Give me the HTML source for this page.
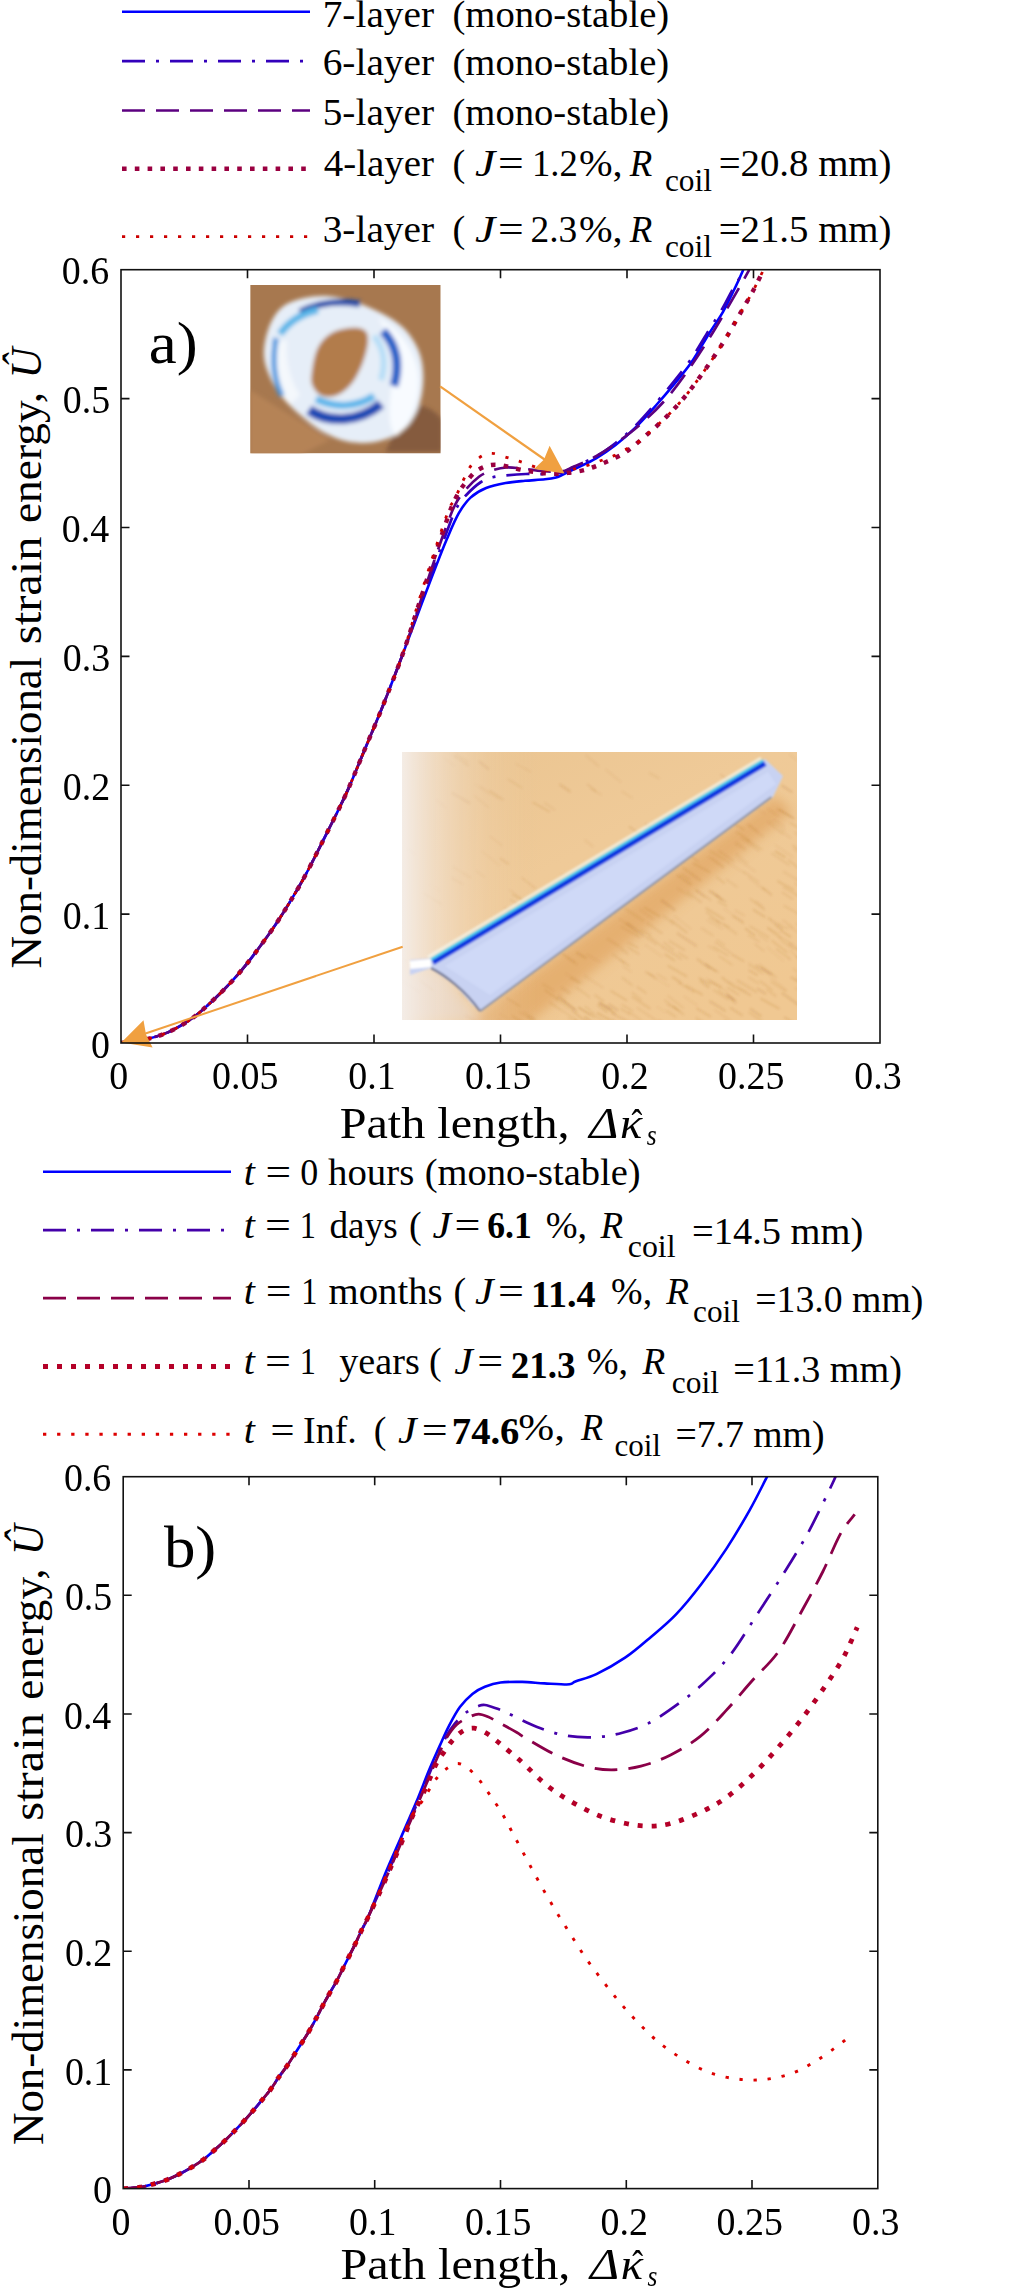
<!DOCTYPE html>
<html><head><meta charset="utf-8"><title>Strain energy</title>
<style>
html,body{margin:0;padding:0;background:#fff;}
svg{display:block;}
text{font-family:'Liberation Serif','Times New Roman',serif;fill:#000;}
</style></head><body>
<svg width="1025" height="2288" viewBox="0 0 1025 2288">
<defs>
<filter id="bl1" x="-10%" y="-10%" width="120%" height="120%"><feGaussianBlur stdDeviation="2.2"/></filter>
<filter id="bl2" x="-10%" y="-10%" width="120%" height="120%"><feGaussianBlur stdDeviation="1.2"/></filter>
<filter id="bl4" x="-5%" y="-5%" width="110%" height="110%"><feGaussianBlur stdDeviation="0.9"/></filter>
<filter id="bl3" x="-20%" y="-20%" width="140%" height="140%"><feGaussianBlur stdDeviation="6"/></filter>
<clipPath id="cp1"><rect x="250.2" y="285" width="190.5" height="168.4"/></clipPath>
<clipPath id="cp2"><rect x="402" y="752" width="395" height="268"/></clipPath>
<clipPath id="ca"><rect x="121" y="269.7" width="759" height="773.3"/></clipPath>
<clipPath id="cb"><rect x="123.2" y="1476.7" width="754.6" height="711.9"/></clipPath>
<linearGradient id="wood2" x1="0" y1="0" x2="1" y2="0.6">
<stop offset="0" stop-color="#f3ece6"/><stop offset="0.25" stop-color="#efd6b6"/><stop offset="0.6" stop-color="#e9c08c"/><stop offset="1" stop-color="#e4b47c"/>
</linearGradient>
<linearGradient id="w2base" x1="0" y1="0" x2="0.8" y2="1">
<stop offset="0" stop-color="#eac490"/><stop offset="0.45" stop-color="#efca98"/><stop offset="1" stop-color="#f0c892"/>
</linearGradient>
<linearGradient id="w2g" x1="0" y1="0" x2="1" y2="0">
<stop offset="0" stop-color="#f4eeea" stop-opacity="0.95"/><stop offset="0.08" stop-color="#f2e4d6" stop-opacity="0.7"/><stop offset="0.22" stop-color="#f0d6b8" stop-opacity="0.25"/><stop offset="0.35" stop-color="#eec89a" stop-opacity="0"/><stop offset="1" stop-color="#eec89a" stop-opacity="0"/>
</linearGradient>
<linearGradient id="wood1" x1="0" y1="0" x2="0.3" y2="1">
<stop offset="0" stop-color="#a47650"/><stop offset="0.6" stop-color="#a87a50"/><stop offset="1" stop-color="#a46a38"/>
</linearGradient>
</defs>

<path d="M122,11.7H310" fill="none" stroke="#0000ff" stroke-width="2.6" stroke-linejoin="round"/><path d="M122,61.2H310" fill="none" stroke="#3300bb" stroke-width="2.7" stroke-dasharray="23 11 3 11" stroke-linejoin="round"/><path d="M122,110.5H310" fill="none" stroke="#5c0080" stroke-width="2.7" stroke-dasharray="23 11" stroke-linejoin="round"/><path d="M122,168.8H310" fill="none" stroke="#9a0040" stroke-width="4.4" stroke-dasharray="4.6 8.2" stroke-linejoin="round"/><path d="M122,236.7H310" fill="none" stroke="#cc0000" stroke-width="2.8" stroke-dasharray="3.2 10.8" stroke-linejoin="round"/><path d="M43,1171.8H231" fill="none" stroke="#0000ff" stroke-width="2.6" stroke-linejoin="round"/><path d="M43,1230.1H231" fill="none" stroke="#4400aa" stroke-width="2.7" stroke-dasharray="23 11 3 11" stroke-linejoin="round"/><path d="M43,1298.1H231" fill="none" stroke="#8a0048" stroke-width="2.8" stroke-dasharray="23 11" stroke-linejoin="round"/><path d="M43,1366.5H231" fill="none" stroke="#b40028" stroke-width="4.8" stroke-dasharray="5 9" stroke-linejoin="round"/><path d="M43,1434.3H231" fill="none" stroke="#dd0000" stroke-width="2.9" stroke-dasharray="3.3 10.8" stroke-linejoin="round"/>
<g>
<text x="322.73" y="27.00" font-size="38" textLength="111.30" lengthAdjust="spacingAndGlyphs" xml:space="preserve">7-layer</text>
<text x="452.47" y="27.00" font-size="38" textLength="216.71" lengthAdjust="spacingAndGlyphs" xml:space="preserve">(mono-stable)</text>
<text x="322.73" y="75.20" font-size="38" textLength="111.30" lengthAdjust="spacingAndGlyphs" xml:space="preserve">6-layer</text>
<text x="452.47" y="75.20" font-size="38" textLength="216.71" lengthAdjust="spacingAndGlyphs" xml:space="preserve">(mono-stable)</text>
<text x="322.73" y="125.00" font-size="38" textLength="111.30" lengthAdjust="spacingAndGlyphs" xml:space="preserve">5-layer</text>
<text x="452.47" y="125.00" font-size="38" textLength="216.71" lengthAdjust="spacingAndGlyphs" xml:space="preserve">(mono-stable)</text>
<text x="323.78" y="176.30" font-size="38" textLength="110.25" lengthAdjust="spacingAndGlyphs" xml:space="preserve">4-layer</text>
<text x="452.48" y="176.30" font-size="38" textLength="12.78" lengthAdjust="spacingAndGlyphs" xml:space="preserve">(</text>
<text x="475.10" y="176.30" font-size="38" font-style="italic" textLength="20.25" lengthAdjust="spacingAndGlyphs" xml:space="preserve">J</text>
<text x="498.00" y="176.30" font-size="38" textLength="25.73" lengthAdjust="spacingAndGlyphs" xml:space="preserve">=</text>
<text x="531.90" y="176.30" font-size="38" textLength="45.84" lengthAdjust="spacingAndGlyphs" xml:space="preserve">1.2</text>
<text x="578.94" y="176.30" font-size="38" textLength="43.65" lengthAdjust="spacingAndGlyphs" xml:space="preserve">%,</text>
<text x="629.70" y="176.30" font-size="38" font-style="italic" textLength="22.51" lengthAdjust="spacingAndGlyphs" xml:space="preserve">R</text>
<text x="664.92" y="191.30" font-size="32" textLength="47.05" lengthAdjust="spacingAndGlyphs" xml:space="preserve">coil</text>
<text x="718.66" y="176.30" font-size="38" textLength="172.77" lengthAdjust="spacingAndGlyphs" xml:space="preserve">=20.8 mm)</text>
<text x="322.73" y="242.00" font-size="38" textLength="111.30" lengthAdjust="spacingAndGlyphs" xml:space="preserve">3-layer</text>
<text x="452.48" y="242.00" font-size="38" textLength="12.78" lengthAdjust="spacingAndGlyphs" xml:space="preserve">(</text>
<text x="475.10" y="242.00" font-size="38" font-style="italic" textLength="20.25" lengthAdjust="spacingAndGlyphs" xml:space="preserve">J</text>
<text x="498.00" y="242.00" font-size="38" textLength="25.73" lengthAdjust="spacingAndGlyphs" xml:space="preserve">=</text>
<text x="530.53" y="242.00" font-size="38" textLength="46.74" lengthAdjust="spacingAndGlyphs" xml:space="preserve">2.3</text>
<text x="578.94" y="242.00" font-size="38" textLength="43.65" lengthAdjust="spacingAndGlyphs" xml:space="preserve">%,</text>
<text x="629.70" y="242.00" font-size="38" font-style="italic" textLength="22.51" lengthAdjust="spacingAndGlyphs" xml:space="preserve">R</text>
<text x="664.92" y="257.00" font-size="32" textLength="47.05" lengthAdjust="spacingAndGlyphs" xml:space="preserve">coil</text>
<text x="718.66" y="242.00" font-size="38" textLength="172.77" lengthAdjust="spacingAndGlyphs" xml:space="preserve">=21.5 mm)</text>
<text x="243.89" y="1185.40" font-size="38" font-style="italic" textLength="11.15" lengthAdjust="spacingAndGlyphs" xml:space="preserve">t</text>
<text x="265.51" y="1185.40" font-size="38" textLength="25.61" lengthAdjust="spacingAndGlyphs" xml:space="preserve">=</text>
<text x="300.25" y="1185.40" font-size="38" textLength="17.99" lengthAdjust="spacingAndGlyphs" xml:space="preserve">0</text>
<text x="328.08" y="1185.40" font-size="38" textLength="86.20" lengthAdjust="spacingAndGlyphs" xml:space="preserve">hours</text>
<text x="424.67" y="1185.40" font-size="38" textLength="216.00" lengthAdjust="spacingAndGlyphs" xml:space="preserve">(mono-stable)</text>
<text x="243.89" y="1238.20" font-size="38" font-style="italic" textLength="11.15" lengthAdjust="spacingAndGlyphs" xml:space="preserve">t</text>
<text x="265.08" y="1238.20" font-size="38" textLength="25.96" lengthAdjust="spacingAndGlyphs" xml:space="preserve">=</text>
<text x="299.85" y="1238.20" font-size="38" textLength="16.15" lengthAdjust="spacingAndGlyphs" xml:space="preserve">1</text>
<text x="329.52" y="1238.20" font-size="38" textLength="68.20" lengthAdjust="spacingAndGlyphs" xml:space="preserve">days</text>
<text x="409.10" y="1238.20" font-size="38" textLength="12.66" lengthAdjust="spacingAndGlyphs" xml:space="preserve">(</text>
<text x="432.50" y="1238.20" font-size="38" font-style="italic" textLength="18.56" lengthAdjust="spacingAndGlyphs" xml:space="preserve">J</text>
<text x="454.58" y="1238.20" font-size="38" textLength="25.96" lengthAdjust="spacingAndGlyphs" xml:space="preserve">=</text>
<text x="487.26" y="1238.20" font-size="38" font-weight="bold" textLength="44.54" lengthAdjust="spacingAndGlyphs" xml:space="preserve">6.1</text>
<text x="545.79" y="1238.20" font-size="38" textLength="41.37" lengthAdjust="spacingAndGlyphs" xml:space="preserve">%,</text>
<text x="600.50" y="1238.20" font-size="38" font-style="italic" textLength="22.61" lengthAdjust="spacingAndGlyphs" xml:space="preserve">R</text>
<text x="627.80" y="1256.70" font-size="32" textLength="47.78" lengthAdjust="spacingAndGlyphs" xml:space="preserve">coil</text>
<text x="692.08" y="1244.00" font-size="38" textLength="171.14" lengthAdjust="spacingAndGlyphs" xml:space="preserve">=14.5 mm)</text>
<text x="243.89" y="1303.60" font-size="38" font-style="italic" textLength="11.15" lengthAdjust="spacingAndGlyphs" xml:space="preserve">t</text>
<text x="265.80" y="1303.60" font-size="38" textLength="25.73" lengthAdjust="spacingAndGlyphs" xml:space="preserve">=</text>
<text x="301.15" y="1303.60" font-size="38" textLength="16.15" lengthAdjust="spacingAndGlyphs" xml:space="preserve">1</text>
<text x="328.58" y="1303.60" font-size="38" textLength="114.06" lengthAdjust="spacingAndGlyphs" xml:space="preserve">months</text>
<text x="453.60" y="1303.60" font-size="38" textLength="12.66" lengthAdjust="spacingAndGlyphs" xml:space="preserve">(</text>
<text x="475.10" y="1303.60" font-size="38" font-style="italic" textLength="18.56" lengthAdjust="spacingAndGlyphs" xml:space="preserve">J</text>
<text x="497.98" y="1303.60" font-size="38" textLength="25.96" lengthAdjust="spacingAndGlyphs" xml:space="preserve">=</text>
<text x="530.99" y="1307.00" font-size="38" font-weight="bold" textLength="64.62" lengthAdjust="spacingAndGlyphs" xml:space="preserve">11.4</text>
<text x="611.10" y="1303.60" font-size="38" textLength="41.05" lengthAdjust="spacingAndGlyphs" xml:space="preserve">%,</text>
<text x="666.30" y="1303.60" font-size="38" font-style="italic" textLength="22.71" lengthAdjust="spacingAndGlyphs" xml:space="preserve">R</text>
<text x="693.02" y="1322.30" font-size="32" textLength="46.84" lengthAdjust="spacingAndGlyphs" xml:space="preserve">coil</text>
<text x="755.31" y="1311.50" font-size="38" textLength="168.08" lengthAdjust="spacingAndGlyphs" xml:space="preserve">=13.0 mm)</text>
<text x="243.89" y="1373.50" font-size="38" font-style="italic" textLength="11.15" lengthAdjust="spacingAndGlyphs" xml:space="preserve">t</text>
<text x="265.08" y="1373.50" font-size="38" textLength="25.96" lengthAdjust="spacingAndGlyphs" xml:space="preserve">=</text>
<text x="299.85" y="1373.50" font-size="38" textLength="16.15" lengthAdjust="spacingAndGlyphs" xml:space="preserve">1</text>
<text x="339.30" y="1373.50" font-size="38" textLength="80.49" lengthAdjust="spacingAndGlyphs" xml:space="preserve">years</text>
<text x="429.00" y="1373.50" font-size="38" textLength="12.66" lengthAdjust="spacingAndGlyphs" xml:space="preserve">(</text>
<text x="454.30" y="1373.50" font-size="38" font-style="italic" textLength="18.56" lengthAdjust="spacingAndGlyphs" xml:space="preserve">J</text>
<text x="477.38" y="1373.50" font-size="38" textLength="25.96" lengthAdjust="spacingAndGlyphs" xml:space="preserve">=</text>
<text x="510.72" y="1377.70" font-size="38" font-weight="bold" textLength="64.84" lengthAdjust="spacingAndGlyphs" xml:space="preserve">21.3</text>
<text x="586.79" y="1373.50" font-size="38" textLength="41.37" lengthAdjust="spacingAndGlyphs" xml:space="preserve">%,</text>
<text x="642.40" y="1373.50" font-size="38" font-style="italic" textLength="22.71" lengthAdjust="spacingAndGlyphs" xml:space="preserve">R</text>
<text x="671.82" y="1393.00" font-size="32" textLength="47.15" lengthAdjust="spacingAndGlyphs" xml:space="preserve">coil</text>
<text x="733.39" y="1382.00" font-size="38" textLength="168.62" lengthAdjust="spacingAndGlyphs" xml:space="preserve">=11.3 mm)</text>
<text x="243.89" y="1442.50" font-size="38" font-style="italic" textLength="11.15" lengthAdjust="spacingAndGlyphs" xml:space="preserve">t</text>
<text x="270.56" y="1442.50" font-size="38" textLength="24.06" lengthAdjust="spacingAndGlyphs" xml:space="preserve">=</text>
<text x="303.00" y="1442.50" font-size="38" textLength="53.81" lengthAdjust="spacingAndGlyphs" xml:space="preserve">Inf.</text>
<text x="373.80" y="1442.50" font-size="38" textLength="12.66" lengthAdjust="spacingAndGlyphs" xml:space="preserve">(</text>
<text x="398.10" y="1442.50" font-size="38" font-style="italic" textLength="18.56" lengthAdjust="spacingAndGlyphs" xml:space="preserve">J</text>
<text x="421.78" y="1442.50" font-size="38" textLength="25.96" lengthAdjust="spacingAndGlyphs" xml:space="preserve">=</text>
<text x="451.87" y="1444.00" font-size="38" font-weight="bold" textLength="67.56" lengthAdjust="spacingAndGlyphs" xml:space="preserve">74.6</text>
<text x="518.27" y="1440.00" font-size="38" textLength="46.68" lengthAdjust="spacingAndGlyphs" xml:space="preserve">%,</text>
<text x="581.00" y="1439.50" font-size="38" font-style="italic" textLength="22.11" lengthAdjust="spacingAndGlyphs" xml:space="preserve">R</text>
<text x="614.53" y="1456.20" font-size="32" textLength="46.42" lengthAdjust="spacingAndGlyphs" xml:space="preserve">coil</text>
<text x="675.52" y="1447.40" font-size="38" textLength="148.98" lengthAdjust="spacingAndGlyphs" xml:space="preserve">=7.7 mm)</text>
</g>
<g clip-path="url(#cp1)"><rect x="250.2" y="285" width="190.5" height="168.4" fill="#a7784f"/>
<g filter="url(#bl1)">
<path d="M250,390 L330,440 L300,455 L250,455Z" fill="#bb875a" opacity="0.7"/>
<path d="M405,405 C420,402 436,410 442,420 L442,452 L385,452 C392,440 398,420 405,405Z" fill="#6e4830" opacity="0.6"/>
<path d="M264.0,356.2 C263.4,347.1 265.7,336.2 268.7,328.1 C271.7,320.0 275.9,312.5 281.8,307.5 C287.7,302.5 296.5,300.0 304.3,298.1 C312.1,296.2 320.3,295.6 328.7,296.2 C337.1,296.8 346.2,299.1 354.9,301.9 C363.6,304.7 373.0,308.7 381.1,313.1 C389.2,317.5 397.4,321.9 403.6,328.1 C409.9,334.4 415.3,342.8 418.6,350.6 C421.9,358.4 423.0,366.5 423.3,374.9 C423.6,383.3 422.4,393.3 420.4,401.1 C418.4,408.9 415.2,416.1 411.1,421.7 C407.1,427.3 402.4,431.4 396.1,434.8 C389.9,438.2 381.7,441.2 373.6,442.3 C365.5,443.4 355.5,442.9 347.4,441.4 C339.3,439.8 331.8,436.6 324.9,433.0 C318.0,429.4 312.4,424.9 306.2,419.9 C300.0,414.9 293.1,409.2 287.5,403.0 C281.9,396.8 276.4,390.2 272.5,382.4 C268.6,374.6 264.6,365.2 264.0,356.2Z" fill="#e6eef8"/>
<path d="M378,318 C398,328 414,348 418,372 C421,398 412,424 396,436 C386,425 390,400 392,380 C394,355 390,335 378,318Z" fill="#f8fbff"/>
<path d="M270,345 C268,370 276,392 290,405 L300,395 C290,380 285,360 287,340Z" fill="#f4f8fc"/>
<path d="M311.8,373.0 C312.6,366.8 314.3,355.2 317.4,348.7 C320.5,342.1 325.2,337.1 330.5,333.7 C335.8,330.3 343.7,328.7 349.3,328.1 C354.9,327.5 361.2,327.8 364.3,330.0 C367.4,332.2 368.3,335.6 368.0,341.2 C367.7,346.8 365.2,356.5 362.4,363.7 C359.6,370.9 355.5,379.0 351.1,384.3 C346.7,389.6 341.2,393.6 336.2,395.5 C331.2,397.4 325.1,397.1 321.2,395.5 C317.3,393.9 314.3,389.9 312.7,386.1 C311.1,382.4 311.0,379.2 311.8,373.0Z" fill="#b27b4b"/>
<path d="M300,312 C318,303 338,300 360,304" stroke="#1a48aa" stroke-width="6.5" fill="none"/>
<path d="M280,334 C290,320 304,313 318,310" stroke="#5ab6e8" stroke-width="7" fill="none"/>
<path d="M276,338 C272,360 274,380 282,396" stroke="#3c8edc" stroke-width="5.5" fill="none" opacity="0.9"/>
<path d="M309,410 C328,423 358,423 381,404" stroke="#1a48b4" stroke-width="10" fill="none"/>
<path d="M316,399 C334,408 356,408 374,396" stroke="#4aaee8" stroke-width="7" fill="none" opacity="0.9"/>
<path d="M383,331 C397,346 400,365 394,386" stroke="#2460c8" stroke-width="8.5" fill="none"/>
<path d="M374,336 C384,348 386,364 381,380" stroke="#a8d8f6" stroke-width="6" fill="none" opacity="0.8"/>

</g>
</g>
<g clip-path="url(#cp2)"><rect x="402" y="752" width="395" height="268" fill="url(#w2base)"/>
<g filter="url(#bl3)">
<path d="M478,1014 L776,796 L792,812 L520,1030 L470,1030Z" fill="#dc9a52" opacity="0.55"/>
<path d="M402,975 L440,972 L478,1020 L402,1020Z" fill="#e4d2c6" opacity="0.8"/>
</g>
<g fill="none" stroke="#a86424" stroke-linecap="round" filter="url(#bl4)"><path d="M571.0,977.7l8.4,5.0" stroke-opacity="0.14" stroke-width="2.3"/><path d="M631.7,860.3l6.8,5.4" stroke-opacity="0.09" stroke-width="1.4"/><path d="M611.0,990.9l15.5,9.5" stroke-opacity="0.18" stroke-width="1.3"/><path d="M568.4,958.7l8.4,5.6" stroke-opacity="0.06" stroke-width="2.0"/><path d="M706.3,908.4l17.2,10.7" stroke-opacity="0.14" stroke-width="1.9"/><path d="M778.0,881.4l15.2,8.3" stroke-opacity="0.14" stroke-width="2.0"/><path d="M797.3,976.4l10.1,6.5" stroke-opacity="0.14" stroke-width="1.2"/><path d="M500.6,858.7l7.6,5.0" stroke-opacity="0.13" stroke-width="2.3"/><path d="M728.1,987.9l10.0,6.5" stroke-opacity="0.10" stroke-width="2.3"/><path d="M781.3,940.5l12.4,8.8" stroke-opacity="0.14" stroke-width="1.3"/><path d="M760.0,964.9l16.0,12.3" stroke-opacity="0.11" stroke-width="1.7"/><path d="M797.3,879.2l12.9,7.2" stroke-opacity="0.07" stroke-width="1.6"/><path d="M612.2,1019.1l16.2,11.9" stroke-opacity="0.09" stroke-width="1.6"/><path d="M725.0,1020.9l15.8,12.2" stroke-opacity="0.16" stroke-width="2.1"/><path d="M505.2,941.1l11.0,9.0" stroke-opacity="0.18" stroke-width="2.3"/><path d="M760.3,981.4l11.9,8.6" stroke-opacity="0.16" stroke-width="1.3"/><path d="M664.9,1000.4l15.1,11.4" stroke-opacity="0.12" stroke-width="1.4"/><path d="M788.7,860.1l10.5,8.6" stroke-opacity="0.15" stroke-width="1.4"/><path d="M452.6,793.3l16.7,9.6" stroke-opacity="0.16" stroke-width="2.4"/><path d="M454.1,755.9l14.1,9.6" stroke-opacity="0.17" stroke-width="1.7"/><path d="M749.0,977.5l9.4,5.6" stroke-opacity="0.10" stroke-width="1.5"/><path d="M584.3,911.3l10.8,8.7" stroke-opacity="0.12" stroke-width="1.8"/><path d="M623.1,966.1l7.8,5.4" stroke-opacity="0.09" stroke-width="1.5"/><path d="M709.4,890.6l12.6,9.6" stroke-opacity="0.17" stroke-width="1.7"/><path d="M677.7,875.5l12.9,8.6" stroke-opacity="0.17" stroke-width="2.0"/><path d="M750.9,1009.2l9.6,6.6" stroke-opacity="0.17" stroke-width="2.2"/><path d="M668.4,966.0l17.8,10.2" stroke-opacity="0.15" stroke-width="2.0"/><path d="M458.9,993.0l8.6,7.0" stroke-opacity="0.11" stroke-width="1.8"/><path d="M796.0,979.3l8.6,5.6" stroke-opacity="0.12" stroke-width="1.6"/><path d="M605.9,769.6l14.7,12.2" stroke-opacity="0.07" stroke-width="1.5"/><path d="M453.6,867.3l16.7,10.1" stroke-opacity="0.08" stroke-width="2.3"/><path d="M629.1,943.2l8.1,4.4" stroke-opacity="0.14" stroke-width="1.7"/><path d="M721.0,774.9l7.0,5.5" stroke-opacity="0.11" stroke-width="1.6"/><path d="M622.1,1005.0l10.2,5.8" stroke-opacity="0.12" stroke-width="1.5"/><path d="M793.0,845.6l15.8,11.7" stroke-opacity="0.14" stroke-width="1.7"/><path d="M748.5,935.1l10.3,6.1" stroke-opacity="0.10" stroke-width="1.8"/><path d="M784.8,1017.5l13.4,8.0" stroke-opacity="0.18" stroke-width="1.6"/><path d="M663.7,947.5l17.1,11.0" stroke-opacity="0.10" stroke-width="2.4"/><path d="M419.4,980.0l13.4,10.1" stroke-opacity="0.16" stroke-width="1.4"/><path d="M722.3,977.6l12.6,10.1" stroke-opacity="0.14" stroke-width="2.0"/><path d="M624.3,923.4l13.5,9.9" stroke-opacity="0.12" stroke-width="1.2"/><path d="M719.5,956.3l12.4,8.5" stroke-opacity="0.14" stroke-width="1.3"/><path d="M696.5,1018.4l12.6,8.0" stroke-opacity="0.12" stroke-width="2.0"/><path d="M707.3,920.4l14.9,8.2" stroke-opacity="0.08" stroke-width="1.5"/><path d="M669.5,941.0l14.9,9.1" stroke-opacity="0.12" stroke-width="1.8"/><path d="M587.6,784.4l8.3,6.9" stroke-opacity="0.17" stroke-width="1.2"/><path d="M584.7,975.8l18.0,11.9" stroke-opacity="0.09" stroke-width="1.5"/><path d="M778.3,809.5l14.0,8.0" stroke-opacity="0.12" stroke-width="2.3"/><path d="M755.0,944.0l8.8,7.0" stroke-opacity="0.12" stroke-width="1.2"/><path d="M700.8,981.1l7.5,6.1" stroke-opacity="0.15" stroke-width="2.3"/><path d="M799.5,912.8l10.9,7.1" stroke-opacity="0.09" stroke-width="1.3"/><path d="M774.4,820.1l9.7,6.6" stroke-opacity="0.08" stroke-width="1.6"/><path d="M782.6,993.4l15.8,11.3" stroke-opacity="0.17" stroke-width="2.3"/><path d="M620.6,948.4l7.0,5.2" stroke-opacity="0.11" stroke-width="2.1"/><path d="M790.6,823.0l14.6,9.0" stroke-opacity="0.13" stroke-width="1.7"/><path d="M762.6,887.7l8.6,7.0" stroke-opacity="0.18" stroke-width="1.7"/><path d="M504.8,907.5l15.5,10.1" stroke-opacity="0.11" stroke-width="1.8"/><path d="M512.5,1016.2l8.1,5.5" stroke-opacity="0.14" stroke-width="2.2"/><path d="M561.1,873.7l15.6,12.4" stroke-opacity="0.06" stroke-width="1.2"/><path d="M684.4,996.5l12.0,8.4" stroke-opacity="0.06" stroke-width="1.7"/><path d="M770.9,977.4l15.4,12.8" stroke-opacity="0.09" stroke-width="1.3"/><path d="M776.7,949.0l13.6,10.3" stroke-opacity="0.11" stroke-width="1.9"/><path d="M768.1,928.2l10.7,6.0" stroke-opacity="0.09" stroke-width="2.0"/><path d="M522.0,877.8l13.3,10.6" stroke-opacity="0.12" stroke-width="1.5"/><path d="M500.3,1014.2l15.2,9.4" stroke-opacity="0.06" stroke-width="1.8"/><path d="M667.6,1004.6l9.8,5.3" stroke-opacity="0.10" stroke-width="1.7"/><path d="M696.2,889.8l8.4,6.9" stroke-opacity="0.10" stroke-width="2.2"/><path d="M519.4,1011.9l12.9,7.5" stroke-opacity="0.09" stroke-width="1.7"/><path d="M666.8,1011.0l8.5,5.4" stroke-opacity="0.09" stroke-width="2.4"/><path d="M558.5,997.2l16.3,12.2" stroke-opacity="0.18" stroke-width="2.3"/><path d="M533.0,802.6l16.2,8.8" stroke-opacity="0.14" stroke-width="1.7"/><path d="M782.3,785.8l9.2,5.8" stroke-opacity="0.16" stroke-width="2.2"/><path d="M550.3,1003.0l9.0,5.7" stroke-opacity="0.17" stroke-width="1.2"/><path d="M565.5,973.6l16.5,8.9" stroke-opacity="0.06" stroke-width="1.3"/><path d="M768.2,822.2l14.4,11.6" stroke-opacity="0.10" stroke-width="1.5"/><path d="M783.2,920.4l9.4,7.0" stroke-opacity="0.10" stroke-width="1.5"/><path d="M403.5,958.3l13.1,10.7" stroke-opacity="0.06" stroke-width="1.5"/><path d="M591.1,1013.2l18.0,11.5" stroke-opacity="0.09" stroke-width="1.7"/><path d="M598.4,1005.4l8.4,6.4" stroke-opacity="0.15" stroke-width="2.2"/><path d="M709.6,917.8l10.7,6.6" stroke-opacity="0.10" stroke-width="2.1"/><path d="M621.9,840.9l15.6,13.1" stroke-opacity="0.09" stroke-width="1.3"/><path d="M648.9,936.0l14.5,11.4" stroke-opacity="0.14" stroke-width="1.3"/><path d="M736.7,832.2l13.4,8.6" stroke-opacity="0.15" stroke-width="1.4"/><path d="M753.9,909.9l10.6,6.8" stroke-opacity="0.18" stroke-width="1.8"/><path d="M728.0,981.5l18.3,9.9" stroke-opacity="0.10" stroke-width="1.3"/><path d="M772.2,853.6l16.8,11.1" stroke-opacity="0.09" stroke-width="2.1"/><path d="M640.6,929.9l9.6,5.1" stroke-opacity="0.10" stroke-width="2.0"/><path d="M718.5,901.6l7.8,4.3" stroke-opacity="0.11" stroke-width="1.9"/><path d="M524.4,1012.2l10.2,7.1" stroke-opacity="0.10" stroke-width="1.7"/><path d="M746.0,1024.1l11.3,6.6" stroke-opacity="0.15" stroke-width="1.4"/><path d="M728.5,862.9l17.0,11.2" stroke-opacity="0.08" stroke-width="1.2"/><path d="M621.5,926.9l18.1,10.1" stroke-opacity="0.13" stroke-width="1.6"/><path d="M609.4,1004.7l7.9,5.3" stroke-opacity="0.16" stroke-width="2.4"/><path d="M480.5,786.6l18.0,12.0" stroke-opacity="0.07" stroke-width="2.3"/><path d="M556.4,998.9l13.2,10.2" stroke-opacity="0.08" stroke-width="2.1"/><path d="M705.9,964.9l12.5,7.2" stroke-opacity="0.12" stroke-width="1.3"/><path d="M711.5,891.6l7.3,4.9" stroke-opacity="0.11" stroke-width="2.3"/><path d="M456.2,986.0l14.4,11.2" stroke-opacity="0.08" stroke-width="2.4"/><path d="M597.8,1013.2l18.0,10.4" stroke-opacity="0.15" stroke-width="2.3"/><path d="M768.1,808.9l9.7,6.5" stroke-opacity="0.10" stroke-width="1.2"/><path d="M474.5,796.0l13.7,11.0" stroke-opacity="0.08" stroke-width="2.1"/><path d="M545.2,990.3l12.9,9.0" stroke-opacity="0.17" stroke-width="1.3"/><path d="M797.2,923.9l10.7,8.2" stroke-opacity="0.09" stroke-width="2.4"/><path d="M656.4,1020.6l13.1,9.5" stroke-opacity="0.10" stroke-width="1.2"/><path d="M574.0,892.0l8.5,5.0" stroke-opacity="0.14" stroke-width="1.2"/><path d="M591.0,788.8l9.9,5.7" stroke-opacity="0.07" stroke-width="2.0"/><path d="M748.8,965.5l11.7,7.1" stroke-opacity="0.06" stroke-width="2.0"/><path d="M578.6,1007.8l15.7,9.4" stroke-opacity="0.17" stroke-width="1.3"/><path d="M621.3,1008.9l8.6,5.1" stroke-opacity="0.13" stroke-width="1.8"/><path d="M657.3,974.1l8.9,5.5" stroke-opacity="0.10" stroke-width="1.3"/><path d="M756.0,965.8l15.9,8.5" stroke-opacity="0.16" stroke-width="2.1"/><path d="M587.2,954.5l12.3,7.3" stroke-opacity="0.07" stroke-width="1.5"/><path d="M678.7,982.8l15.4,9.3" stroke-opacity="0.13" stroke-width="1.7"/><path d="M715.8,894.8l9.5,6.8" stroke-opacity="0.18" stroke-width="1.5"/><path d="M496.0,955.1l15.7,9.8" stroke-opacity="0.17" stroke-width="1.6"/><path d="M677.8,933.6l18.1,12.0" stroke-opacity="0.16" stroke-width="2.0"/><path d="M743.3,871.4l14.9,10.4" stroke-opacity="0.10" stroke-width="1.5"/><path d="M649.8,773.2l8.8,4.8" stroke-opacity="0.07" stroke-width="2.3"/><path d="M679.4,953.1l7.3,5.1" stroke-opacity="0.10" stroke-width="2.2"/><path d="M728.2,995.3l7.0,5.5" stroke-opacity="0.17" stroke-width="2.3"/><path d="M654.4,977.2l14.4,8.8" stroke-opacity="0.07" stroke-width="1.3"/><path d="M529.7,1015.2l11.8,9.3" stroke-opacity="0.13" stroke-width="1.2"/><path d="M482.4,960.1l6.7,4.5" stroke-opacity="0.12" stroke-width="2.2"/><path d="M733.1,823.1l10.3,6.1" stroke-opacity="0.14" stroke-width="1.8"/><path d="M715.6,942.3l15.5,11.1" stroke-opacity="0.10" stroke-width="1.7"/><path d="M559.1,995.1l7.2,5.8" stroke-opacity="0.06" stroke-width="1.4"/><path d="M506.8,998.0l12.7,8.1" stroke-opacity="0.17" stroke-width="1.5"/><path d="M701.7,928.4l10.9,6.8" stroke-opacity="0.08" stroke-width="2.2"/><path d="M665.5,954.6l8.7,5.7" stroke-opacity="0.15" stroke-width="1.9"/><path d="M452.2,878.1l9.8,5.7" stroke-opacity="0.10" stroke-width="2.0"/><path d="M790.1,950.9l7.3,6.0" stroke-opacity="0.07" stroke-width="1.7"/><path d="M793.6,969.0l15.3,10.0" stroke-opacity="0.08" stroke-width="2.0"/><path d="M678.0,888.6l14.0,9.3" stroke-opacity="0.08" stroke-width="1.9"/><path d="M563.1,954.3l11.5,8.0" stroke-opacity="0.15" stroke-width="1.7"/><path d="M493.0,949.2l15.2,11.2" stroke-opacity="0.16" stroke-width="2.0"/><path d="M713.4,946.7l14.4,8.7" stroke-opacity="0.11" stroke-width="1.7"/><path d="M711.7,858.1l11.4,9.5" stroke-opacity="0.06" stroke-width="1.9"/><path d="M466.0,965.4l13.3,7.5" stroke-opacity="0.13" stroke-width="1.8"/><path d="M687.5,891.8l13.4,10.4" stroke-opacity="0.12" stroke-width="1.7"/><path d="M779.3,809.4l14.8,9.5" stroke-opacity="0.15" stroke-width="1.3"/><path d="M793.8,849.0l7.5,4.6" stroke-opacity="0.11" stroke-width="1.2"/><path d="M697.1,1008.6l13.2,7.8" stroke-opacity="0.16" stroke-width="1.7"/><path d="M724.2,925.2l12.0,8.3" stroke-opacity="0.09" stroke-width="2.4"/><path d="M726.8,879.8l10.0,6.9" stroke-opacity="0.08" stroke-width="2.2"/><path d="M543.2,984.2l9.9,6.3" stroke-opacity="0.09" stroke-width="1.7"/><path d="M664.4,850.9l17.5,9.6" stroke-opacity="0.16" stroke-width="2.3"/><path d="M780.8,931.1l10.0,5.6" stroke-opacity="0.08" stroke-width="1.5"/><path d="M761.8,968.1l8.1,6.5" stroke-opacity="0.13" stroke-width="2.1"/><path d="M668.0,996.0l15.0,11.7" stroke-opacity="0.08" stroke-width="2.0"/><path d="M613.3,954.5l11.1,8.8" stroke-opacity="0.13" stroke-width="1.5"/><path d="M736.5,854.4l10.7,8.8" stroke-opacity="0.07" stroke-width="2.0"/><path d="M673.7,1006.3l9.7,8.1" stroke-opacity="0.12" stroke-width="1.8"/><path d="M650.9,844.4l10.9,7.3" stroke-opacity="0.12" stroke-width="2.1"/><path d="M622.5,977.7l9.5,7.4" stroke-opacity="0.11" stroke-width="1.8"/><path d="M510.1,890.3l13.6,10.4" stroke-opacity="0.10" stroke-width="1.6"/><path d="M754.5,900.9l7.4,4.6" stroke-opacity="0.06" stroke-width="1.4"/><path d="M768.7,918.2l13.7,10.5" stroke-opacity="0.17" stroke-width="1.9"/><path d="M647.4,923.1l14.5,10.2" stroke-opacity="0.14" stroke-width="1.5"/><path d="M710.3,1001.5l14.5,9.2" stroke-opacity="0.16" stroke-width="2.1"/><path d="M657.4,1006.9l7.2,5.0" stroke-opacity="0.06" stroke-width="1.3"/><path d="M724.5,909.1l17.4,11.5" stroke-opacity="0.06" stroke-width="1.7"/><path d="M637.6,1008.0l18.1,12.1" stroke-opacity="0.11" stroke-width="1.3"/><path d="M686.0,985.6l15.9,8.8" stroke-opacity="0.14" stroke-width="2.1"/><path d="M585.3,1006.5l8.9,7.4" stroke-opacity="0.15" stroke-width="1.2"/><path d="M719.3,851.2l13.9,9.9" stroke-opacity="0.11" stroke-width="1.7"/><path d="M714.9,1010.0l15.6,10.8" stroke-opacity="0.10" stroke-width="1.3"/><path d="M789.6,944.0l16.6,10.4" stroke-opacity="0.13" stroke-width="2.4"/><path d="M732.9,916.1l10.3,6.7" stroke-opacity="0.17" stroke-width="1.7"/><path d="M674.6,916.3l16.3,12.6" stroke-opacity="0.09" stroke-width="1.2"/><path d="M726.8,994.3l6.8,5.3" stroke-opacity="0.16" stroke-width="2.2"/><path d="M629.6,826.8l15.6,11.4" stroke-opacity="0.17" stroke-width="1.6"/><path d="M481.8,956.8l9.2,6.5" stroke-opacity="0.14" stroke-width="1.8"/><path d="M717.1,877.5l7.3,5.6" stroke-opacity="0.15" stroke-width="1.5"/><path d="M632.7,996.9l16.9,11.5" stroke-opacity="0.12" stroke-width="1.9"/><path d="M796.2,988.4l12.2,8.5" stroke-opacity="0.09" stroke-width="2.1"/><path d="M571.5,1010.4l14.8,11.5" stroke-opacity="0.18" stroke-width="1.5"/><path d="M748.5,877.1l16.5,13.4" stroke-opacity="0.07" stroke-width="1.9"/><path d="M560.2,784.7l9.5,6.6" stroke-opacity="0.14" stroke-width="2.3"/><path d="M465.6,1015.7l9.8,5.3" stroke-opacity="0.09" stroke-width="1.6"/><path d="M761.3,998.9l17.3,9.4" stroke-opacity="0.15" stroke-width="2.1"/><path d="M659.4,1021.0l7.6,4.4" stroke-opacity="0.15" stroke-width="2.3"/><path d="M479.7,761.8l8.6,7.0" stroke-opacity="0.16" stroke-width="2.3"/><path d="M771.7,981.9l14.0,9.3" stroke-opacity="0.10" stroke-width="2.2"/><path d="M622.2,791.5l9.8,6.4" stroke-opacity="0.08" stroke-width="1.5"/><path d="M736.1,843.3l8.6,5.8" stroke-opacity="0.10" stroke-width="2.3"/><path d="M758.2,934.4l9.1,6.1" stroke-opacity="0.09" stroke-width="1.5"/><path d="M482.2,851.4l17.1,13.9" stroke-opacity="0.07" stroke-width="1.5"/><path d="M518.8,1019.2l6.5,5.0" stroke-opacity="0.10" stroke-width="1.4"/><path d="M476.0,870.8l9.1,6.3" stroke-opacity="0.08" stroke-width="1.4"/><path d="M708.6,946.3l9.4,5.2" stroke-opacity="0.07" stroke-width="1.9"/><path d="M645.7,945.2l15.9,11.1" stroke-opacity="0.08" stroke-width="1.3"/><path d="M693.6,863.4l15.9,8.7" stroke-opacity="0.16" stroke-width="1.6"/><path d="M737.1,988.0l13.1,7.0" stroke-opacity="0.17" stroke-width="1.8"/><path d="M749.1,824.7l8.4,6.5" stroke-opacity="0.10" stroke-width="1.4"/><path d="M746.5,839.6l15.1,9.7" stroke-opacity="0.15" stroke-width="1.3"/><path d="M749.4,1012.5l12.4,8.4" stroke-opacity="0.12" stroke-width="1.8"/><path d="M640.6,909.4l12.3,9.1" stroke-opacity="0.07" stroke-width="2.2"/><path d="M637.5,987.1l8.3,5.8" stroke-opacity="0.15" stroke-width="1.4"/><path d="M730.8,1008.0l11.3,7.3" stroke-opacity="0.16" stroke-width="1.8"/><path d="M559.5,1009.0l16.0,10.0" stroke-opacity="0.09" stroke-width="1.6"/><path d="M575.4,1019.9l15.0,12.1" stroke-opacity="0.16" stroke-width="2.2"/><path d="M423.3,893.2l18.1,10.9" stroke-opacity="0.11" stroke-width="2.0"/><path d="M774.9,924.9l15.1,12.1" stroke-opacity="0.17" stroke-width="1.2"/><path d="M510.8,900.0l14.3,8.6" stroke-opacity="0.12" stroke-width="1.7"/><path d="M780.4,830.5l10.0,7.2" stroke-opacity="0.07" stroke-width="1.9"/><path d="M782.5,892.3l9.8,6.5" stroke-opacity="0.12" stroke-width="1.4"/><path d="M644.8,907.7l14.8,8.7" stroke-opacity="0.15" stroke-width="1.8"/><path d="M620.1,919.3l12.4,7.7" stroke-opacity="0.09" stroke-width="1.5"/><path d="M406.7,848.3l9.3,6.5" stroke-opacity="0.12" stroke-width="1.5"/><path d="M795.0,832.7l16.3,9.4" stroke-opacity="0.07" stroke-width="2.2"/><path d="M577.1,952.8l8.2,4.9" stroke-opacity="0.18" stroke-width="2.1"/><path d="M670.8,920.2l15.7,12.2" stroke-opacity="0.12" stroke-width="2.1"/><path d="M697.8,959.4l11.6,8.9" stroke-opacity="0.15" stroke-width="2.3"/><path d="M706.7,911.9l11.5,9.5" stroke-opacity="0.13" stroke-width="1.7"/><path d="M713.9,990.3l13.9,8.9" stroke-opacity="0.11" stroke-width="1.7"/><path d="M715.3,983.9l12.5,8.2" stroke-opacity="0.08" stroke-width="1.6"/><path d="M737.7,980.8l18.5,10.9" stroke-opacity="0.11" stroke-width="2.3"/><path d="M599.9,1003.2l15.5,10.7" stroke-opacity="0.18" stroke-width="1.8"/><path d="M607.9,939.1l11.4,7.2" stroke-opacity="0.13" stroke-width="1.6"/><path d="M779.3,936.7l13.4,7.5" stroke-opacity="0.10" stroke-width="1.7"/><path d="M625.4,908.7l17.9,12.0" stroke-opacity="0.11" stroke-width="1.9"/><path d="M798.5,845.7l12.2,9.5" stroke-opacity="0.08" stroke-width="1.6"/><path d="M791.4,977.5l13.2,7.4" stroke-opacity="0.17" stroke-width="2.0"/><path d="M728.6,1022.3l17.1,11.1" stroke-opacity="0.08" stroke-width="1.5"/><path d="M542.6,1023.3l14.9,8.1" stroke-opacity="0.11" stroke-width="2.1"/><path d="M613.5,1024.2l13.5,8.7" stroke-opacity="0.07" stroke-width="1.4"/><path d="M646.0,972.2l7.8,4.2" stroke-opacity="0.15" stroke-width="1.6"/><path d="M508.1,779.2l13.7,8.6" stroke-opacity="0.11" stroke-width="1.7"/><path d="M783.9,872.0l14.3,8.6" stroke-opacity="0.07" stroke-width="2.3"/><path d="M742.2,837.9l16.3,12.6" stroke-opacity="0.10" stroke-width="1.9"/><path d="M784.1,887.3l18.3,10.9" stroke-opacity="0.11" stroke-width="2.1"/><path d="M490.1,836.4l11.7,9.0" stroke-opacity="0.09" stroke-width="1.4"/><path d="M544.6,802.9l9.9,6.9" stroke-opacity="0.07" stroke-width="1.8"/><path d="M689.5,854.9l8.4,6.9" stroke-opacity="0.12" stroke-width="1.5"/><path d="M709.2,857.1l14.1,9.8" stroke-opacity="0.10" stroke-width="1.7"/><path d="M436.2,800.3l10.1,7.3" stroke-opacity="0.07" stroke-width="1.9"/><path d="M562.5,1000.1l14.7,11.8" stroke-opacity="0.16" stroke-width="1.4"/><path d="M664.3,942.9l9.0,7.1" stroke-opacity="0.10" stroke-width="2.0"/><path d="M474.3,783.5l14.7,10.9" stroke-opacity="0.06" stroke-width="1.2"/><path d="M628.9,947.6l9.7,6.3" stroke-opacity="0.14" stroke-width="1.6"/><path d="M516.0,763.7l14.5,7.9" stroke-opacity="0.09" stroke-width="1.3"/><path d="M717.0,809.4l16.2,9.0" stroke-opacity="0.14" stroke-width="1.7"/><path d="M699.5,978.2l10.4,5.8" stroke-opacity="0.17" stroke-width="1.7"/><path d="M772.2,940.8l14.5,11.3" stroke-opacity="0.14" stroke-width="1.7"/><path d="M605.7,1005.4l7.8,5.9" stroke-opacity="0.07" stroke-width="2.0"/><path d="M787.8,926.0l13.4,8.0" stroke-opacity="0.07" stroke-width="1.6"/><path d="M579.1,1007.5l11.0,6.8" stroke-opacity="0.17" stroke-width="1.4"/><path d="M620.2,959.6l8.4,6.1" stroke-opacity="0.13" stroke-width="1.8"/><path d="M706.9,978.9l8.2,5.0" stroke-opacity="0.10" stroke-width="1.4"/><path d="M681.2,874.3l8.1,5.1" stroke-opacity="0.12" stroke-width="1.6"/><path d="M796.9,956.9l7.4,5.5" stroke-opacity="0.18" stroke-width="1.9"/><path d="M768.0,928.0l13.0,10.6" stroke-opacity="0.14" stroke-width="1.5"/><path d="M710.2,981.2l10.5,6.1" stroke-opacity="0.14" stroke-width="2.2"/><path d="M732.5,954.7l10.9,6.3" stroke-opacity="0.16" stroke-width="1.6"/><path d="M627.6,923.5l15.7,11.6" stroke-opacity="0.17" stroke-width="2.3"/><path d="M403.1,981.5l15.9,10.4" stroke-opacity="0.09" stroke-width="2.0"/><path d="M585.3,1017.2l16.2,12.9" stroke-opacity="0.18" stroke-width="2.4"/><path d="M648.7,973.4l7.1,5.2" stroke-opacity="0.13" stroke-width="1.6"/><path d="M629.3,1012.1l12.0,8.6" stroke-opacity="0.10" stroke-width="1.6"/><path d="M756.2,901.6l7.5,5.9" stroke-opacity="0.09" stroke-width="1.3"/><path d="M576.9,987.7l12.6,9.4" stroke-opacity="0.15" stroke-width="1.3"/><path d="M796.3,949.0l7.4,5.8" stroke-opacity="0.11" stroke-width="1.4"/><path d="M784.1,905.7l16.4,9.3" stroke-opacity="0.15" stroke-width="1.3"/><path d="M683.6,868.3l16.7,11.9" stroke-opacity="0.16" stroke-width="1.9"/><path d="M767.2,989.7l8.3,6.2" stroke-opacity="0.10" stroke-width="2.1"/><path d="M672.8,977.4l8.2,5.2" stroke-opacity="0.15" stroke-width="2.3"/><path d="M735.6,910.7l8.4,4.5" stroke-opacity="0.07" stroke-width="2.2"/><path d="M750.4,899.0l14.0,10.8" stroke-opacity="0.17" stroke-width="1.2"/><path d="M749.5,970.5l7.3,4.3" stroke-opacity="0.16" stroke-width="2.0"/><path d="M738.4,859.4l16.5,11.7" stroke-opacity="0.07" stroke-width="1.6"/><path d="M612.2,1013.3l19.3,10.4" stroke-opacity="0.13" stroke-width="2.1"/><path d="M749.2,963.4l13.7,9.8" stroke-opacity="0.10" stroke-width="1.5"/><path d="M718.5,990.3l17.1,12.5" stroke-opacity="0.10" stroke-width="2.1"/><path d="M696.3,890.9l14.3,9.0" stroke-opacity="0.13" stroke-width="1.7"/><path d="M795.4,883.4l11.3,6.8" stroke-opacity="0.09" stroke-width="1.6"/><path d="M456.0,754.0l12.0,7.9" stroke-opacity="0.13" stroke-width="1.6"/><path d="M775.1,844.9l17.1,12.0" stroke-opacity="0.07" stroke-width="1.4"/><path d="M633.0,1021.6l10.3,7.9" stroke-opacity="0.11" stroke-width="2.2"/><path d="M429.0,884.3l10.2,6.1" stroke-opacity="0.06" stroke-width="1.4"/><path d="M745.9,928.9l8.6,6.4" stroke-opacity="0.18" stroke-width="1.9"/><path d="M433.6,973.0l11.1,6.3" stroke-opacity="0.08" stroke-width="1.8"/><path d="M750.4,926.7l18.0,10.6" stroke-opacity="0.10" stroke-width="2.1"/><path d="M586.4,755.7l12.2,10.2" stroke-opacity="0.07" stroke-width="1.9"/><path d="M663.6,916.2l10.1,7.6" stroke-opacity="0.09" stroke-width="2.1"/><path d="M705.8,963.8l9.8,7.5" stroke-opacity="0.18" stroke-width="1.7"/><path d="M512.7,894.9l8.7,4.6" stroke-opacity="0.12" stroke-width="2.0"/><path d="M710.1,851.0l18.8,11.2" stroke-opacity="0.15" stroke-width="1.3"/><path d="M776.0,851.8l8.7,5.1" stroke-opacity="0.15" stroke-width="2.3"/><path d="M498.5,1020.2l12.2,8.7" stroke-opacity="0.10" stroke-width="2.2"/><path d="M585.1,840.4l7.6,5.7" stroke-opacity="0.07" stroke-width="2.0"/><path d="M561.9,987.9l7.3,5.0" stroke-opacity="0.11" stroke-width="2.3"/><path d="M778.1,923.2l9.5,5.7" stroke-opacity="0.09" stroke-width="1.7"/><path d="M657.8,833.5l9.1,6.3" stroke-opacity="0.08" stroke-width="2.2"/><path d="M748.0,825.0l14.6,11.4" stroke-opacity="0.09" stroke-width="1.6"/><path d="M595.2,995.2l8.3,6.1" stroke-opacity="0.13" stroke-width="1.7"/><path d="M632.5,993.0l8.5,6.8" stroke-opacity="0.10" stroke-width="2.1"/><path d="M745.6,801.8l18.7,11.5" stroke-opacity="0.06" stroke-width="1.3"/><path d="M789.8,754.6l8.1,6.1" stroke-opacity="0.07" stroke-width="1.4"/><path d="M767.6,947.6l15.6,13.0" stroke-opacity="0.06" stroke-width="1.5"/><path d="M717.3,940.2l7.1,4.8" stroke-opacity="0.09" stroke-width="1.7"/><path d="M443.7,757.4l9.7,7.7" stroke-opacity="0.07" stroke-width="1.8"/><path d="M599.5,1002.8l11.1,6.6" stroke-opacity="0.18" stroke-width="2.3"/><path d="M661.9,900.5l12.6,9.3" stroke-opacity="0.18" stroke-width="2.2"/><path d="M568.8,1017.6l11.3,7.2" stroke-opacity="0.11" stroke-width="1.4"/><path d="M770.7,821.5l14.0,8.9" stroke-opacity="0.09" stroke-width="1.4"/><path d="M527.6,1017.3l6.4,4.8" stroke-opacity="0.16" stroke-width="1.8"/><path d="M637.7,1023.6l9.2,6.6" stroke-opacity="0.15" stroke-width="1.7"/><path d="M645.9,936.9l10.2,7.3" stroke-opacity="0.13" stroke-width="1.5"/><path d="M645.8,824.3l11.7,8.7" stroke-opacity="0.12" stroke-width="1.8"/><path d="M490.0,790.8l12.7,8.7" stroke-opacity="0.12" stroke-width="2.2"/><path d="M757.8,988.9l7.3,4.6" stroke-opacity="0.16" stroke-width="2.2"/><path d="M559.4,1024.2l14.8,9.8" stroke-opacity="0.12" stroke-width="2.2"/><path d="M717.3,920.7l11.6,6.3" stroke-opacity="0.11" stroke-width="1.6"/></g>
<rect x="402" y="752" width="395" height="268" fill="url(#w2g)"/>
<g filter="url(#bl2)">
<path d="M410,960 L433,958 L765,759 L783,776 L773,797 L480,1011 L472,1004 L455,985 L431,968 L410,975Z" fill="#c8d2f2"/>
<path d="M445,966 L768,772 L776,784 L490,995Z" fill="#d4defa" opacity="0.6"/>
<path d="M480.3,1011 L771.4,797" stroke="#8a90a6" stroke-width="2" fill="none"/>
<path d="M431,968 C445,975 465,990 480,1011" stroke="#6a7090" stroke-width="2" fill="none"/>
<path d="M428,957 L761,758" stroke="#f4f8f0" stroke-width="3" fill="none" opacity="0.7"/>
<path d="M431,959.5 L763,760.5" stroke="#50d0f0" stroke-width="3" fill="none"/>
<path d="M433,962.6 L765.2,763.5" stroke="#0838e0" stroke-width="5" fill="none"/>
<path d="M410,965 L431,963" stroke="#ffffff" stroke-width="8" fill="none"/>
</g>
</g>
<g clip-path="url(#ca)">
<path d="M121.0,1043.0 C125.5,1042.3 139.6,1040.8 147.9,1038.8 C156.2,1036.8 163.1,1034.7 170.7,1031.1 C178.3,1027.5 186.6,1022.3 193.6,1017.2 C200.6,1012.1 206.5,1006.4 212.6,1000.7 C218.7,995.0 224.6,989.1 230.3,983.0 C236.0,976.9 241.5,970.5 246.8,963.9 C252.1,957.3 257.0,950.6 262.1,943.6 C267.2,936.6 272.7,929.0 277.3,922.0 C281.9,915.0 285.8,908.8 290.0,901.8 C294.2,894.8 298.5,887.8 302.7,880.2 C306.9,872.6 311.3,863.9 315.3,856.1 C319.3,848.3 322.9,840.9 326.7,833.3 C330.5,825.7 334.6,817.8 338.2,810.4 C341.8,803.0 344.1,798.4 348.3,788.9 C352.5,779.4 357.5,767.0 363.2,753.2 C368.9,739.4 376.2,722.6 382.7,706.3 C389.2,690.0 396.0,671.9 402.2,655.6 C408.4,639.4 414.3,623.4 419.8,608.8 C425.3,594.2 430.8,579.5 435.4,567.8 C439.9,556.1 443.2,547.6 447.1,538.5 C451.0,529.4 454.9,520.0 458.8,513.2 C462.7,506.4 465.9,501.8 470.5,497.6 C475.1,493.4 480.2,490.4 486.1,488.0 C492.0,485.6 499.1,484.2 505.6,483.0 C512.1,481.8 518.4,481.4 525.0,480.8 C531.6,480.2 539.8,479.9 545.0,479.3 C550.2,478.8 552.8,478.4 556.0,477.5 C559.2,476.6 560.6,475.6 564.0,474.0 C567.4,472.4 571.2,470.6 576.6,468.0 C582.0,465.4 589.6,462.1 596.1,458.3 C602.6,454.5 609.0,450.1 615.6,445.0 C622.2,439.9 628.9,434.0 635.6,427.4 C642.3,420.8 649.4,412.8 655.9,405.5 C662.4,398.2 668.6,390.9 674.6,383.6 C680.6,376.3 686.1,370.1 691.8,361.8 C697.5,353.5 703.8,342.0 709.0,333.7 C714.2,325.4 718.8,319.1 723.0,311.8 C727.2,304.5 730.6,297.0 734.0,290.0 C737.4,283.0 741.8,273.1 743.3,269.7" fill="none" stroke="#0000ff" stroke-width="2.6" stroke-linejoin="round"/>
<path d="M121.0,1043.0 C125.5,1042.3 139.6,1040.8 147.9,1038.8 C156.2,1036.8 163.1,1034.7 170.7,1031.1 C178.3,1027.5 186.6,1022.3 193.6,1017.2 C200.6,1012.1 206.5,1006.4 212.6,1000.7 C218.7,995.0 224.6,989.1 230.3,983.0 C236.0,976.9 241.5,970.5 246.8,963.9 C252.1,957.3 257.0,950.6 262.1,943.6 C267.2,936.6 272.7,929.0 277.3,922.0 C281.9,915.0 285.8,908.8 290.0,901.8 C294.2,894.8 298.5,887.8 302.7,880.2 C306.9,872.6 311.3,863.9 315.3,856.1 C319.3,848.3 322.9,840.9 326.7,833.3 C330.5,825.7 334.6,817.8 338.2,810.4 C341.8,803.0 344.1,798.4 348.3,788.9 C352.5,779.4 357.5,767.0 363.2,753.2 C368.9,739.4 376.2,722.6 382.7,706.3 C389.2,690.0 396.1,672.1 402.2,655.6 C408.3,639.1 414.1,622.1 419.5,607.0 C424.9,591.9 430.1,577.2 434.5,565.0 C438.9,552.8 442.4,543.3 446.0,534.0 C449.6,524.7 452.6,515.5 456.0,509.0 C459.4,502.5 462.1,499.5 466.3,495.0 C470.5,490.5 476.6,484.9 481.0,482.0 C485.4,479.1 488.5,478.4 492.7,477.3 C496.9,476.2 500.8,475.9 506.3,475.3 C511.8,474.8 520.0,474.2 525.9,474.0 C531.8,473.8 536.3,474.3 541.5,474.2 C546.7,474.1 553.0,474.0 557.1,473.5 C561.2,473.0 562.8,472.3 566.0,471.0 C569.2,469.7 571.6,467.9 576.6,465.5 C581.6,463.1 589.6,460.2 596.1,456.5 C602.6,452.8 609.0,448.2 615.6,443.0 C622.2,437.8 628.9,432.2 635.6,425.5 C642.3,418.8 649.4,410.5 655.9,403.0 C662.4,395.5 668.6,388.0 674.6,380.5 C680.6,373.0 686.1,366.4 691.8,358.0 C697.5,349.6 703.8,338.4 709.0,330.0 C714.2,321.6 718.8,314.7 723.0,307.5 C727.2,300.3 730.3,293.3 734.0,287.0 C737.7,280.7 743.2,272.6 745.0,269.7" fill="none" stroke="#3300bb" stroke-width="2.7" stroke-dasharray="23 11 3 11" stroke-linejoin="round"/>
<path d="M121.0,1043.0 C125.5,1042.3 139.6,1040.8 147.9,1038.8 C156.2,1036.8 163.1,1034.7 170.7,1031.1 C178.3,1027.5 186.6,1022.3 193.6,1017.2 C200.6,1012.1 206.5,1006.4 212.6,1000.7 C218.7,995.0 224.6,989.1 230.3,983.0 C236.0,976.9 241.5,970.5 246.8,963.9 C252.1,957.3 257.0,950.6 262.1,943.6 C267.2,936.6 272.7,929.0 277.3,922.0 C281.9,915.0 285.8,908.8 290.0,901.8 C294.2,894.8 298.5,887.8 302.7,880.2 C306.9,872.6 311.3,863.9 315.3,856.1 C319.3,848.3 322.9,840.9 326.7,833.3 C330.5,825.7 334.6,817.8 338.2,810.4 C341.8,803.0 344.1,798.4 348.3,788.9 C352.5,779.4 357.5,767.0 363.2,753.2 C368.9,739.4 376.2,722.6 382.7,706.3 C389.2,690.0 396.1,672.3 402.2,655.6 C408.2,638.9 413.8,621.4 419.0,606.0 C424.2,590.6 429.2,575.7 433.5,563.0 C437.8,550.3 441.4,539.7 445.0,530.0 C448.6,520.3 451.6,511.7 455.0,505.0 C458.4,498.3 461.4,494.7 465.4,490.0 C469.4,485.3 474.8,480.0 479.0,476.8 C483.2,473.6 486.1,472.6 490.7,471.0 C495.2,469.4 500.4,467.8 506.3,467.5 C512.2,467.2 520.0,468.4 525.9,469.0 C531.8,469.6 535.6,470.6 541.5,471.0 C547.4,471.4 555.8,472.1 561.0,471.5 C566.2,470.9 566.9,469.6 572.7,467.1 C578.6,464.6 588.2,460.7 596.1,456.3 C604.0,451.9 612.1,446.3 620.0,440.5 C627.9,434.7 635.6,428.8 643.4,421.7 C651.2,414.6 659.5,406.5 666.8,398.2 C674.1,389.9 680.6,380.8 687.1,371.7 C693.6,362.6 699.9,353.0 705.9,343.6 C711.9,334.2 717.3,325.1 723.0,315.5 C728.7,305.9 735.8,293.5 740.2,285.9 C744.6,278.3 747.8,272.4 749.3,269.7" fill="none" stroke="#5c0080" stroke-width="2.7" stroke-dasharray="23 11" stroke-linejoin="round"/>
<path d="M121.0,1043.0 C125.5,1042.3 139.6,1040.8 147.9,1038.8 C156.2,1036.8 163.1,1034.7 170.7,1031.1 C178.3,1027.5 186.6,1022.3 193.6,1017.2 C200.6,1012.1 206.5,1006.4 212.6,1000.7 C218.7,995.0 224.6,989.1 230.3,983.0 C236.0,976.9 241.5,970.5 246.8,963.9 C252.1,957.3 257.0,950.6 262.1,943.6 C267.2,936.6 272.7,929.0 277.3,922.0 C281.9,915.0 285.8,908.8 290.0,901.8 C294.2,894.8 298.5,887.8 302.7,880.2 C306.9,872.6 311.3,863.9 315.3,856.1 C319.3,848.3 322.9,840.9 326.7,833.3 C330.5,825.7 334.6,817.8 338.2,810.4 C341.8,803.0 344.1,798.4 348.3,788.9 C352.5,779.4 357.5,767.0 363.2,753.2 C368.9,739.4 376.2,722.6 382.7,706.3 C389.2,690.0 396.1,672.6 402.2,655.6 C408.2,638.6 413.9,619.8 419.0,604.0 C424.1,588.2 428.8,573.8 433.0,561.0 C437.2,548.2 441.3,536.2 444.5,527.0 C447.7,517.8 449.6,511.8 452.0,506.0 C454.4,500.2 456.8,495.8 459.0,492.0 C461.2,488.2 462.7,486.3 465.4,483.0 C468.1,479.7 471.7,474.8 475.1,472.0 C478.5,469.2 482.3,467.3 485.9,466.1 C489.5,464.9 492.9,464.6 496.6,464.7 C500.3,464.8 504.1,465.8 508.3,466.7 C512.5,467.6 517.8,469.1 522.0,470.0 C526.2,470.9 529.8,471.4 533.7,472.0 C537.6,472.6 541.2,473.0 545.4,473.3 C549.6,473.6 554.8,474.0 559.0,473.9 C563.2,473.8 566.5,473.1 570.7,472.5 C574.9,471.9 580.2,471.1 584.4,470.0 C588.6,468.9 592.2,467.6 596.1,466.1 C600.0,464.6 604.1,462.8 607.8,461.2 C611.5,459.6 614.9,458.2 618.5,456.3 C622.1,454.4 624.4,453.3 629.3,449.5 C634.2,445.7 641.9,439.1 648.1,433.6 C654.4,428.1 660.8,422.4 666.8,416.4 C672.8,410.4 678.5,404.2 684.0,397.7 C689.5,391.2 694.6,384.2 699.6,377.4 C704.6,370.6 709.0,364.1 713.7,357.1 C718.4,350.1 723.3,342.5 727.7,335.2 C732.1,327.9 736.0,320.7 740.2,313.4 C744.4,306.1 748.8,298.8 752.7,291.5 C756.6,284.2 761.8,273.3 763.6,269.7" fill="none" stroke="#9a0040" stroke-width="4.4" stroke-dasharray="4.6 8.2" stroke-linejoin="round"/>
<path d="M121.0,1043.0 C125.5,1042.3 139.6,1040.8 147.9,1038.8 C156.2,1036.8 163.1,1034.7 170.7,1031.1 C178.3,1027.5 186.6,1022.3 193.6,1017.2 C200.6,1012.1 206.5,1006.4 212.6,1000.7 C218.7,995.0 224.6,989.1 230.3,983.0 C236.0,976.9 241.5,970.5 246.8,963.9 C252.1,957.3 257.0,950.6 262.1,943.6 C267.2,936.6 272.7,929.0 277.3,922.0 C281.9,915.0 285.8,908.8 290.0,901.8 C294.2,894.8 298.5,887.8 302.7,880.2 C306.9,872.6 311.3,863.9 315.3,856.1 C319.3,848.3 322.9,840.9 326.7,833.3 C330.5,825.7 334.6,817.8 338.2,810.4 C341.8,803.0 344.1,798.4 348.3,788.9 C352.5,779.4 357.5,767.0 363.2,753.2 C368.9,739.4 376.2,722.6 382.7,706.3 C389.2,690.0 396.2,673.0 402.2,655.6 C408.2,638.2 413.5,618.1 418.5,602.0 C423.5,585.9 427.9,571.7 432.0,559.0 C436.1,546.3 440.0,534.7 443.0,526.0 C446.0,517.3 448.1,511.3 450.0,507.0 C451.9,502.7 453.0,503.1 454.6,500.0 C456.2,496.9 457.7,492.5 459.5,488.5 C461.3,484.5 463.3,480.0 465.4,475.9 C467.5,471.8 469.3,467.5 472.2,464.1 C475.1,460.7 479.5,457.2 482.9,455.4 C486.3,453.6 488.8,453.1 492.7,453.4 C496.6,453.7 501.9,456.0 506.3,457.3 C510.7,458.6 514.6,459.7 519.0,461.2 C523.4,462.7 528.3,464.6 532.7,466.1 C537.1,467.6 541.0,469.0 545.4,470.0 C549.8,471.0 554.1,472.2 559.0,472.0 C563.9,471.8 569.7,470.1 574.6,469.0 C579.5,467.9 583.7,466.6 588.3,465.1 C592.9,463.6 597.6,461.8 602.0,460.2 C606.4,458.6 610.4,457.3 614.6,455.4 C618.8,453.4 623.2,450.8 627.3,448.5 C631.4,446.2 635.5,444.2 639.0,441.7 C642.5,439.2 643.5,437.8 648.1,433.6 C652.7,429.4 660.8,422.4 666.8,416.4 C672.8,410.4 678.5,404.2 684.0,397.7 C689.5,391.2 694.6,384.2 699.6,377.4 C704.6,370.6 709.0,364.1 713.7,357.1 C718.4,350.1 723.3,342.5 727.7,335.2 C732.1,327.9 736.0,320.7 740.2,313.4 C744.4,306.1 748.8,298.8 752.7,291.5 C756.6,284.2 761.8,273.3 763.6,269.7" fill="none" stroke="#cc0000" stroke-width="2.8" stroke-dasharray="3.2 10.8" stroke-linejoin="round"/>
</g>
<path d="M440.1,386.4L546,460.5" stroke="#f0a040" stroke-width="2.2" fill="none"/>
<path d="M564.5,473.6 L549.6,445.8 L544,459.6 L534,469Z" fill="#f0a040"/>
<path d="M402.7,946.7L144,1034" stroke="#f0a040" stroke-width="2" fill="none"/>
<path d="M121.3,1042.6 L143.5,1020.3 L146,1034.6 L152.6,1047.5Z" fill="#f0a040"/>
<rect x="121.0" y="269.7" width="759.0" height="773.3" fill="none" stroke="#111" stroke-width="1.6"/><path d="M247.5,1043.0v-8.5M247.5,269.7v8.5M374.0,1043.0v-8.5M374.0,269.7v8.5M500.5,1043.0v-8.5M500.5,269.7v8.5M627.0,1043.0v-8.5M627.0,269.7v8.5M753.5,1043.0v-8.5M753.5,269.7v8.5M121.0,914.1h8.5M880.0,914.1h-8.5M121.0,785.2h8.5M880.0,785.2h-8.5M121.0,656.4h8.5M880.0,656.4h-8.5M121.0,527.5h8.5M880.0,527.5h-8.5M121.0,398.6h8.5M880.0,398.6h-8.5" stroke="#111" stroke-width="1.6" fill="none"/>
<g clip-path="url(#cb)">
<path d="M123.2,2188.6 C126.1,2188.4 135.3,2187.9 140.3,2187.2 C145.3,2186.4 148.8,2185.2 153.0,2184.1 C157.2,2182.9 161.3,2182.0 165.7,2180.3 C170.1,2178.6 175.2,2176.2 179.6,2174.0 C184.0,2171.8 188.3,2169.3 192.3,2166.9 C196.3,2164.5 200.1,2162.0 203.7,2159.3 C207.3,2156.6 210.5,2153.6 213.9,2150.6 C217.3,2147.6 220.6,2144.7 224.0,2141.5 C227.4,2138.3 230.8,2134.9 234.2,2131.4 C237.6,2127.9 241.1,2124.2 244.3,2120.7 C247.5,2117.2 250.2,2114.1 253.2,2110.6 C256.2,2107.1 259.2,2103.5 262.1,2099.9 C265.1,2096.3 268.2,2092.7 270.9,2089.0 C273.6,2085.3 275.8,2081.5 278.5,2077.6 C281.2,2073.7 284.6,2069.4 287.4,2065.4 C290.1,2061.4 292.5,2057.5 295.0,2053.5 C297.5,2049.5 300.1,2045.5 302.6,2041.6 C305.1,2037.7 307.5,2033.9 309.8,2029.9 C312.1,2025.9 314.4,2021.6 316.6,2017.5 C318.8,2013.4 320.7,2009.5 322.9,2005.3 C325.1,2001.1 327.7,1996.7 330.0,1992.6 C332.3,1988.5 334.7,1984.8 336.9,1980.7 C339.1,1976.6 341.1,1972.2 343.2,1968.0 C345.3,1963.8 347.5,1959.5 349.6,1955.3 C351.7,1951.1 353.9,1946.8 355.9,1942.6 C357.9,1938.4 359.5,1934.6 361.5,1930.4 C363.5,1926.2 364.2,1926.6 368.1,1917.2 C372.0,1907.8 379.6,1887.4 385.0,1874.2 C390.4,1861.0 395.4,1850.3 400.6,1838.3 C405.8,1826.3 411.5,1813.5 416.2,1802.3 C420.9,1791.1 424.8,1780.5 428.7,1771.1 C432.6,1761.7 436.2,1753.6 439.6,1746.1 C443.0,1738.6 445.6,1732.4 449.0,1725.9 C452.4,1719.4 456.0,1712.4 459.9,1707.1 C463.8,1701.8 468.2,1697.3 472.4,1693.9 C476.6,1690.5 480.2,1688.7 484.9,1686.8 C489.6,1684.9 494.3,1683.3 500.5,1682.5 C506.7,1681.7 514.9,1681.8 522.2,1681.9 C529.5,1682.1 537.1,1683.0 544.5,1683.4 C551.9,1683.8 562.1,1684.5 566.7,1684.5 C571.3,1684.5 570.5,1684.0 572.0,1683.5 C573.5,1683.0 571.9,1682.8 576.0,1681.2 C580.1,1679.6 588.2,1678.0 596.4,1674.1 C604.6,1670.2 616.1,1663.8 625.1,1657.7 C634.1,1651.6 642.0,1644.6 650.4,1637.4 C658.8,1630.2 667.3,1623.5 675.8,1614.6 C684.3,1605.7 692.8,1595.2 701.2,1584.2 C709.7,1573.2 718.5,1560.9 726.5,1548.6 C734.5,1536.3 742.6,1522.6 749.4,1510.6 C756.2,1498.6 764.1,1482.3 767.1,1476.7" fill="none" stroke="#0000ff" stroke-width="2.6" stroke-linejoin="round"/>
<path d="M123.2,2188.6 C126.1,2188.4 135.3,2187.9 140.3,2187.2 C145.3,2186.4 148.8,2185.2 153.0,2184.1 C157.2,2182.9 161.3,2182.0 165.7,2180.3 C170.1,2178.6 175.2,2176.2 179.6,2174.0 C184.0,2171.8 188.3,2169.3 192.3,2166.9 C196.3,2164.5 200.1,2162.0 203.7,2159.3 C207.3,2156.6 210.5,2153.6 213.9,2150.6 C217.3,2147.6 220.6,2144.7 224.0,2141.5 C227.4,2138.3 230.8,2134.9 234.2,2131.4 C237.6,2127.9 241.1,2124.2 244.3,2120.7 C247.5,2117.2 250.2,2114.1 253.2,2110.6 C256.2,2107.1 259.2,2103.5 262.1,2099.9 C265.1,2096.3 268.2,2092.7 270.9,2089.0 C273.6,2085.3 275.8,2081.5 278.5,2077.6 C281.2,2073.7 284.6,2069.4 287.4,2065.4 C290.1,2061.4 292.5,2057.5 295.0,2053.5 C297.5,2049.5 300.1,2045.5 302.6,2041.6 C305.1,2037.7 307.5,2033.9 309.8,2029.9 C312.1,2025.9 314.4,2021.6 316.6,2017.5 C318.8,2013.4 320.7,2009.5 322.9,2005.3 C325.1,2001.1 327.7,1996.7 330.0,1992.6 C332.3,1988.5 334.7,1984.8 336.9,1980.7 C339.1,1976.6 341.1,1972.2 343.2,1968.0 C345.3,1963.8 347.5,1959.5 349.6,1955.3 C351.7,1951.1 353.9,1946.8 355.9,1942.6 C357.9,1938.4 359.5,1934.6 361.5,1930.4 C363.5,1926.2 363.9,1926.3 368.1,1917.2 C372.3,1908.1 380.9,1888.7 386.5,1876.0 C392.1,1863.3 396.6,1852.7 401.5,1841.0 C406.4,1829.3 411.6,1816.7 416.0,1806.0 C420.4,1795.3 424.2,1786.0 428.0,1777.0 C431.8,1768.0 435.3,1759.0 438.5,1752.0 C441.7,1745.0 444.5,1739.5 447.0,1735.0 C449.5,1730.5 450.5,1728.8 453.7,1725.0 C456.9,1721.2 462.0,1715.7 466.1,1712.5 C470.2,1709.3 475.5,1707.2 478.6,1706.0 C481.7,1704.8 482.0,1704.6 484.9,1705.0 C487.8,1705.4 492.1,1706.9 495.8,1708.2 C499.6,1709.5 500.5,1709.8 507.4,1713.0 C514.3,1716.2 527.2,1723.3 537.1,1727.1 C547.0,1730.9 556.8,1734.0 566.7,1735.7 C576.6,1737.4 587.1,1737.6 596.4,1737.1 C605.7,1736.6 613.8,1735.0 622.4,1732.7 C631.0,1730.4 639.6,1727.7 648.3,1723.4 C656.9,1719.1 665.6,1712.9 674.3,1706.7 C682.9,1700.5 691.1,1694.7 700.2,1686.3 C709.3,1677.9 719.6,1668.5 729.1,1656.5 C738.6,1644.5 747.7,1628.8 757.0,1614.6 C766.3,1600.4 776.4,1585.0 784.9,1571.5 C793.4,1558.0 800.5,1546.5 807.7,1533.4 C814.9,1520.3 823.4,1502.2 828.0,1492.8 C832.6,1483.3 834.3,1479.4 835.6,1476.7" fill="none" stroke="#4400aa" stroke-width="2.7" stroke-dasharray="23 11 3 11" stroke-linejoin="round"/>
<path d="M123.2,2188.6 C126.1,2188.4 135.3,2187.9 140.3,2187.2 C145.3,2186.4 148.8,2185.2 153.0,2184.1 C157.2,2182.9 161.3,2182.0 165.7,2180.3 C170.1,2178.6 175.2,2176.2 179.6,2174.0 C184.0,2171.8 188.3,2169.3 192.3,2166.9 C196.3,2164.5 200.1,2162.0 203.7,2159.3 C207.3,2156.6 210.5,2153.6 213.9,2150.6 C217.3,2147.6 220.6,2144.7 224.0,2141.5 C227.4,2138.3 230.8,2134.9 234.2,2131.4 C237.6,2127.9 241.1,2124.2 244.3,2120.7 C247.5,2117.2 250.2,2114.1 253.2,2110.6 C256.2,2107.1 259.2,2103.5 262.1,2099.9 C265.1,2096.3 268.2,2092.7 270.9,2089.0 C273.6,2085.3 275.8,2081.5 278.5,2077.6 C281.2,2073.7 284.6,2069.4 287.4,2065.4 C290.1,2061.4 292.5,2057.5 295.0,2053.5 C297.5,2049.5 300.1,2045.5 302.6,2041.6 C305.1,2037.7 307.5,2033.9 309.8,2029.9 C312.1,2025.9 314.4,2021.6 316.6,2017.5 C318.8,2013.4 320.7,2009.5 322.9,2005.3 C325.1,2001.1 327.7,1996.7 330.0,1992.6 C332.3,1988.5 334.7,1984.8 336.9,1980.7 C339.1,1976.6 341.1,1972.2 343.2,1968.0 C345.3,1963.8 347.5,1959.5 349.6,1955.3 C351.7,1951.1 353.9,1946.8 355.9,1942.6 C357.9,1938.4 359.5,1934.6 361.5,1930.4 C363.5,1926.2 363.9,1926.1 368.1,1917.2 C372.3,1908.3 380.9,1889.5 386.5,1877.0 C392.1,1864.5 396.6,1853.5 401.5,1842.0 C406.4,1830.5 411.6,1818.3 416.0,1808.0 C420.4,1797.7 424.3,1788.7 428.0,1780.0 C431.7,1771.3 434.9,1763.0 438.0,1756.0 C441.1,1749.0 443.4,1743.2 446.5,1738.0 C449.6,1732.8 453.0,1728.0 456.8,1724.5 C460.6,1721.0 465.7,1718.7 469.3,1717.0 C472.9,1715.3 475.5,1714.1 478.6,1714.1 C481.7,1714.1 484.6,1715.4 488.0,1716.8 C491.4,1718.2 494.1,1719.9 498.9,1722.5 C503.7,1725.1 512.4,1729.9 516.9,1732.5 C521.4,1735.1 519.5,1734.6 526.0,1738.3 C532.5,1742.0 545.7,1750.3 555.6,1754.9 C565.5,1759.5 576.0,1763.6 585.3,1766.1 C594.6,1768.6 601.9,1769.8 611.2,1769.8 C620.5,1769.8 631.0,1768.6 640.9,1766.1 C650.8,1763.6 660.7,1759.9 670.6,1754.9 C680.5,1750.0 690.9,1743.8 700.2,1736.4 C709.5,1729.0 717.6,1719.7 726.2,1710.4 C734.9,1701.1 743.4,1690.6 752.1,1680.8 C760.8,1671.0 770.2,1663.3 778.6,1651.4 C787.0,1639.5 795.2,1622.8 802.6,1609.5 C810.0,1596.2 816.5,1584.2 822.9,1571.5 C829.2,1558.8 835.4,1542.9 840.7,1533.4 C846.0,1523.9 852.4,1517.6 854.7,1514.4" fill="none" stroke="#8a0048" stroke-width="2.8" stroke-dasharray="23 11" stroke-linejoin="round"/>
<path d="M123.2,2188.6 C126.1,2188.4 135.3,2187.9 140.3,2187.2 C145.3,2186.4 148.8,2185.2 153.0,2184.1 C157.2,2182.9 161.3,2182.0 165.7,2180.3 C170.1,2178.6 175.2,2176.2 179.6,2174.0 C184.0,2171.8 188.3,2169.3 192.3,2166.9 C196.3,2164.5 200.1,2162.0 203.7,2159.3 C207.3,2156.6 210.5,2153.6 213.9,2150.6 C217.3,2147.6 220.6,2144.7 224.0,2141.5 C227.4,2138.3 230.8,2134.9 234.2,2131.4 C237.6,2127.9 241.1,2124.2 244.3,2120.7 C247.5,2117.2 250.2,2114.1 253.2,2110.6 C256.2,2107.1 259.2,2103.5 262.1,2099.9 C265.1,2096.3 268.2,2092.7 270.9,2089.0 C273.6,2085.3 275.8,2081.5 278.5,2077.6 C281.2,2073.7 284.6,2069.4 287.4,2065.4 C290.1,2061.4 292.5,2057.5 295.0,2053.5 C297.5,2049.5 300.1,2045.5 302.6,2041.6 C305.1,2037.7 307.5,2033.9 309.8,2029.9 C312.1,2025.9 314.4,2021.6 316.6,2017.5 C318.8,2013.4 320.7,2009.5 322.9,2005.3 C325.1,2001.1 327.7,1996.7 330.0,1992.6 C332.3,1988.5 334.7,1984.8 336.9,1980.7 C339.1,1976.6 341.1,1972.2 343.2,1968.0 C345.3,1963.8 347.5,1959.5 349.6,1955.3 C351.7,1951.1 353.9,1946.8 355.9,1942.6 C357.9,1938.4 359.5,1934.6 361.5,1930.4 C363.5,1926.2 365.0,1923.7 368.1,1917.2 C371.2,1910.7 376.5,1899.8 380.3,1891.3 C384.1,1882.8 387.6,1874.7 391.2,1866.4 C394.8,1858.1 398.5,1850.0 402.1,1841.4 C405.8,1832.8 409.2,1823.7 413.1,1814.8 C417.0,1805.9 421.7,1796.9 425.6,1788.3 C429.5,1779.7 433.4,1769.4 436.5,1763.3 C439.6,1757.2 441.6,1755.5 444.3,1751.6 C447.0,1747.7 449.8,1743.3 452.9,1739.9 C456.0,1736.5 459.5,1733.0 463.0,1731.0 C466.5,1729.0 470.1,1727.8 474.0,1728.2 C477.9,1728.6 482.5,1731.0 486.4,1733.2 C490.3,1735.4 493.8,1738.6 497.4,1741.5 C501.0,1744.4 504.2,1747.1 508.3,1750.6 C512.4,1754.1 515.6,1756.4 522.2,1762.4 C528.9,1768.4 539.5,1779.7 548.2,1786.5 C556.9,1793.3 565.6,1798.4 574.2,1803.3 C582.9,1808.2 591.5,1812.7 600.1,1816.1 C608.8,1819.5 618.1,1821.8 626.1,1823.5 C634.1,1825.2 640.9,1826.1 648.3,1826.1 C655.7,1826.1 662.0,1825.8 670.6,1823.5 C679.2,1821.2 690.9,1816.7 700.2,1812.4 C709.5,1808.1 717.6,1803.8 726.2,1797.6 C734.9,1791.4 743.5,1783.6 752.1,1775.3 C760.8,1767.0 769.5,1757.4 778.1,1747.5 C786.8,1737.6 796.0,1726.5 804.0,1716.0 C812.0,1705.5 820.0,1693.8 826.3,1684.5 C832.6,1675.2 837.9,1667.1 842.0,1660.0 C846.1,1652.9 848.3,1647.5 850.8,1642.0 C853.3,1636.5 856.1,1629.8 857.2,1627.3" fill="none" stroke="#b40028" stroke-width="4.8" stroke-dasharray="5 9" stroke-linejoin="round"/>
<path d="M123.2,2188.6 C126.1,2188.4 135.3,2187.9 140.3,2187.2 C145.3,2186.4 148.8,2185.2 153.0,2184.1 C157.2,2182.9 161.3,2182.0 165.7,2180.3 C170.1,2178.6 175.2,2176.2 179.6,2174.0 C184.0,2171.8 188.3,2169.3 192.3,2166.9 C196.3,2164.5 200.1,2162.0 203.7,2159.3 C207.3,2156.6 210.5,2153.6 213.9,2150.6 C217.3,2147.6 220.6,2144.7 224.0,2141.5 C227.4,2138.3 230.8,2134.9 234.2,2131.4 C237.6,2127.9 241.1,2124.2 244.3,2120.7 C247.5,2117.2 250.2,2114.1 253.2,2110.6 C256.2,2107.1 259.2,2103.5 262.1,2099.9 C265.1,2096.3 268.2,2092.7 270.9,2089.0 C273.6,2085.3 275.8,2081.5 278.5,2077.6 C281.2,2073.7 284.6,2069.4 287.4,2065.4 C290.1,2061.4 292.5,2057.5 295.0,2053.5 C297.5,2049.5 300.1,2045.5 302.6,2041.6 C305.1,2037.7 307.5,2033.9 309.8,2029.9 C312.1,2025.9 314.4,2021.6 316.6,2017.5 C318.8,2013.4 320.7,2009.5 322.9,2005.3 C325.1,2001.1 327.7,1996.7 330.0,1992.6 C332.3,1988.5 334.7,1984.8 336.9,1980.7 C339.1,1976.6 341.1,1972.2 343.2,1968.0 C345.3,1963.8 347.5,1959.5 349.6,1955.3 C351.7,1951.1 353.9,1946.8 355.9,1942.6 C357.9,1938.4 359.5,1934.6 361.5,1930.4 C363.5,1926.2 365.0,1923.9 368.1,1917.2 C371.2,1910.5 376.2,1898.9 380.0,1890.0 C383.8,1881.1 387.3,1872.7 391.0,1864.0 C394.7,1855.3 398.3,1846.3 402.0,1838.0 C405.7,1829.7 409.6,1820.2 413.0,1814.0 C416.4,1807.8 419.6,1805.0 422.4,1800.9 C425.1,1796.8 427.0,1793.1 429.5,1789.2 C432.0,1785.3 434.4,1780.9 437.3,1777.5 C440.2,1774.1 443.2,1770.9 446.6,1768.6 C450.0,1766.3 454.1,1763.6 457.6,1763.5 C461.1,1763.4 464.3,1765.5 467.7,1768.0 C471.1,1770.5 474.8,1774.6 477.9,1778.2 C481.0,1781.8 483.4,1785.7 486.1,1789.5 C488.8,1793.3 491.3,1796.9 493.9,1800.8 C496.5,1804.7 498.4,1807.0 501.9,1813.0 C505.4,1819.0 510.5,1829.1 514.8,1837.1 C519.1,1845.1 523.3,1853.0 527.8,1861.2 C532.2,1869.4 536.9,1878.2 541.5,1886.4 C546.1,1894.6 550.8,1902.5 555.6,1910.5 C560.4,1918.5 565.3,1926.2 570.4,1934.2 C575.5,1942.2 580.6,1950.5 586.0,1958.3 C591.4,1966.1 597.0,1973.4 602.7,1980.9 C608.5,1988.4 614.5,1996.1 620.5,2003.2 C626.5,2010.3 632.5,2017.0 639.0,2023.6 C645.5,2030.2 652.2,2037.0 659.4,2042.9 C666.6,2048.8 674.4,2054.0 682.4,2058.8 C690.4,2063.6 698.8,2068.5 707.6,2071.8 C716.4,2075.1 726.1,2077.5 735.4,2078.8 C744.7,2080.1 754.0,2080.5 763.3,2079.6 C772.6,2078.7 782.5,2076.6 791.1,2073.6 C799.8,2070.6 807.2,2066.2 815.2,2061.4 C823.2,2056.6 833.4,2049.0 839.3,2044.7 C845.2,2040.4 848.5,2037.0 850.4,2035.5" fill="none" stroke="#dd0000" stroke-width="2.9" stroke-dasharray="3.3 10.8" stroke-linejoin="round"/>
</g>
<rect x="123.2" y="1476.7" width="754.6" height="711.9" fill="none" stroke="#111" stroke-width="1.6"/><path d="M249.0,2188.6v-8.5M249.0,1476.7v8.5M374.7,2188.6v-8.5M374.7,1476.7v8.5M500.5,2188.6v-8.5M500.5,1476.7v8.5M626.3,2188.6v-8.5M626.3,1476.7v8.5M752.0,2188.6v-8.5M752.0,1476.7v8.5M123.2,2069.9h8.5M877.8,2069.9h-8.5M123.2,1951.3h8.5M877.8,1951.3h-8.5M123.2,1832.6h8.5M877.8,1832.6h-8.5M123.2,1714.0h8.5M877.8,1714.0h-8.5M123.2,1595.3h8.5M877.8,1595.3h-8.5" stroke="#111" stroke-width="1.6" fill="none"/>
<g>
<text x="109.37" y="1088.80" font-size="39" textLength="18.95" lengthAdjust="spacingAndGlyphs" xml:space="preserve">0</text>
<text x="212.05" y="1088.80" font-size="39" textLength="66.34" lengthAdjust="spacingAndGlyphs" xml:space="preserve">0.05</text>
<text x="348.27" y="1088.80" font-size="39" textLength="47.38" lengthAdjust="spacingAndGlyphs" xml:space="preserve">0.1</text>
<text x="465.05" y="1088.80" font-size="39" textLength="66.34" lengthAdjust="spacingAndGlyphs" xml:space="preserve">0.15</text>
<text x="601.27" y="1088.80" font-size="39" textLength="47.38" lengthAdjust="spacingAndGlyphs" xml:space="preserve">0.2</text>
<text x="718.05" y="1088.80" font-size="39" textLength="66.34" lengthAdjust="spacingAndGlyphs" xml:space="preserve">0.25</text>
<text x="854.27" y="1088.80" font-size="39" textLength="47.38" lengthAdjust="spacingAndGlyphs" xml:space="preserve">0.3</text>
<text x="90.90" y="1057.70" font-size="39" textLength="18.95" lengthAdjust="spacingAndGlyphs" xml:space="preserve">0</text>
<text x="62.72" y="928.82" font-size="39" textLength="47.38" lengthAdjust="spacingAndGlyphs" xml:space="preserve">0.1</text>
<text x="62.72" y="799.93" font-size="39" textLength="47.38" lengthAdjust="spacingAndGlyphs" xml:space="preserve">0.2</text>
<text x="62.72" y="671.05" font-size="39" textLength="47.38" lengthAdjust="spacingAndGlyphs" xml:space="preserve">0.3</text>
<text x="61.74" y="542.17" font-size="39" textLength="47.38" lengthAdjust="spacingAndGlyphs" xml:space="preserve">0.4</text>
<text x="62.72" y="413.28" font-size="39" textLength="47.38" lengthAdjust="spacingAndGlyphs" xml:space="preserve">0.5</text>
<text x="61.74" y="284.40" font-size="39" textLength="47.38" lengthAdjust="spacingAndGlyphs" xml:space="preserve">0.6</text>
<text x="111.57" y="2234.50" font-size="39" textLength="18.95" lengthAdjust="spacingAndGlyphs" xml:space="preserve">0</text>
<text x="213.52" y="2234.50" font-size="39" textLength="66.34" lengthAdjust="spacingAndGlyphs" xml:space="preserve">0.05</text>
<text x="349.01" y="2234.50" font-size="39" textLength="47.38" lengthAdjust="spacingAndGlyphs" xml:space="preserve">0.1</text>
<text x="465.05" y="2234.50" font-size="39" textLength="66.34" lengthAdjust="spacingAndGlyphs" xml:space="preserve">0.15</text>
<text x="600.54" y="2234.50" font-size="39" textLength="47.38" lengthAdjust="spacingAndGlyphs" xml:space="preserve">0.2</text>
<text x="716.59" y="2234.50" font-size="39" textLength="66.34" lengthAdjust="spacingAndGlyphs" xml:space="preserve">0.25</text>
<text x="852.07" y="2234.50" font-size="39" textLength="47.38" lengthAdjust="spacingAndGlyphs" xml:space="preserve">0.3</text>
<text x="93.10" y="2203.30" font-size="39" textLength="18.95" lengthAdjust="spacingAndGlyphs" xml:space="preserve">0</text>
<text x="64.92" y="2084.65" font-size="39" textLength="47.38" lengthAdjust="spacingAndGlyphs" xml:space="preserve">0.1</text>
<text x="64.92" y="1966.00" font-size="39" textLength="47.38" lengthAdjust="spacingAndGlyphs" xml:space="preserve">0.2</text>
<text x="64.92" y="1847.35" font-size="39" textLength="47.38" lengthAdjust="spacingAndGlyphs" xml:space="preserve">0.3</text>
<text x="63.94" y="1728.70" font-size="39" textLength="47.38" lengthAdjust="spacingAndGlyphs" xml:space="preserve">0.4</text>
<text x="64.92" y="1610.05" font-size="39" textLength="47.38" lengthAdjust="spacingAndGlyphs" xml:space="preserve">0.5</text>
<text x="63.94" y="1491.40" font-size="39" textLength="47.38" lengthAdjust="spacingAndGlyphs" xml:space="preserve">0.6</text>
</g>
<text x="148.80" y="363.30" font-size="60" textLength="48.96" lengthAdjust="spacingAndGlyphs" xml:space="preserve">a)</text>
<text x="163.90" y="1566.60" font-size="60" textLength="52.43" lengthAdjust="spacingAndGlyphs" xml:space="preserve">b)</text>
<g transform="translate(40.60,967.40) rotate(-90)"><text x="-1.02" y="0.00" font-size="44" textLength="311.65" lengthAdjust="spacingAndGlyphs" xml:space="preserve">Non-dimensional</text><text x="323.19" y="0.00" font-size="44" textLength="107.85" lengthAdjust="spacingAndGlyphs" xml:space="preserve">strain</text><text x="444.33" y="0.00" font-size="44" textLength="131.23" lengthAdjust="spacingAndGlyphs" xml:space="preserve">energy,</text><text x="588.82" y="0.00" font-size="44" font-style="italic" textLength="30.83" lengthAdjust="spacingAndGlyphs" xml:space="preserve">Û</text></g>
<g transform="translate(43.00,2144.00) rotate(-90)"><text x="-1.02" y="0.00" font-size="44" textLength="311.65" lengthAdjust="spacingAndGlyphs" xml:space="preserve">Non-dimensional</text><text x="323.19" y="0.00" font-size="44" textLength="107.85" lengthAdjust="spacingAndGlyphs" xml:space="preserve">strain</text><text x="444.33" y="0.00" font-size="44" textLength="131.23" lengthAdjust="spacingAndGlyphs" xml:space="preserve">energy,</text><text x="588.82" y="0.00" font-size="44" font-style="italic" textLength="30.83" lengthAdjust="spacingAndGlyphs" xml:space="preserve">Û</text></g>
<text x="339.71" y="1138.40" font-size="44" textLength="229.90" lengthAdjust="spacingAndGlyphs" xml:space="preserve">Path length,</text><text x="589.23" y="1138.40" font-size="44" font-style="italic" textLength="29.24" lengthAdjust="spacingAndGlyphs" xml:space="preserve">Δ</text><text x="619.99" y="1138.40" font-size="44" font-style="italic" textLength="22.29" lengthAdjust="spacingAndGlyphs" xml:space="preserve">κ</text><text x="631.40" y="1136.90" font-size="40" textLength="10.77" lengthAdjust="spacingAndGlyphs">ˆ</text><text x="646.70" y="1144.90" font-size="30" font-style="italic" textLength="9.88" lengthAdjust="spacingAndGlyphs" xml:space="preserve">s</text>
<text x="340.51" y="2279.20" font-size="44" textLength="229.90" lengthAdjust="spacingAndGlyphs" xml:space="preserve">Path length,</text><text x="590.03" y="2279.20" font-size="44" font-style="italic" textLength="29.24" lengthAdjust="spacingAndGlyphs" xml:space="preserve">Δ</text><text x="620.79" y="2279.20" font-size="44" font-style="italic" textLength="22.29" lengthAdjust="spacingAndGlyphs" xml:space="preserve">κ</text><text x="632.20" y="2277.70" font-size="40" textLength="10.77" lengthAdjust="spacingAndGlyphs">ˆ</text><text x="647.50" y="2285.70" font-size="30" font-style="italic" textLength="9.88" lengthAdjust="spacingAndGlyphs" xml:space="preserve">s</text>
</svg></body></html>
